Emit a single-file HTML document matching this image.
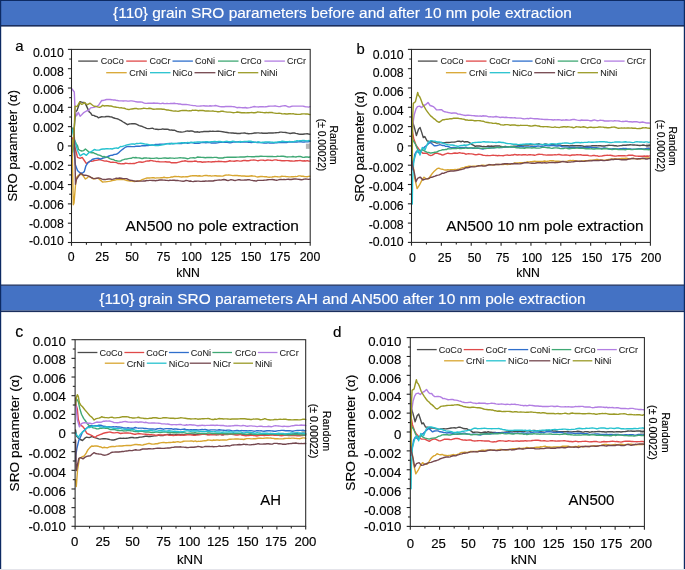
<!DOCTYPE html><html><head><meta charset="utf-8"><style>html,body{margin:0;padding:0;background:#fff}svg{display:block;will-change:transform}text{font-family:"Liberation Sans",sans-serif}</style></head><body>
<svg width="685" height="570" viewBox="0 0 685 570">
<rect x="0" y="0" width="685" height="570" fill="#fff"/>
<rect x="0" y="0" width="685" height="25" fill="#4472c4"/>
<rect x="0" y="25" width="685" height="1.6" fill="#1b2f5e"/>
<text x="342.50" y="18.30" font-size="15.45" text-anchor="middle" fill="#fff" stroke="#fff" stroke-width="0.15" >{110} grain SRO parameters before and after 10 nm pole extraction</text>
<rect x="0" y="285.5" width="685" height="25.0" fill="#4472c4"/>
<rect x="0" y="310.5" width="685" height="1.6" fill="#1b2f5e"/>
<rect x="0" y="284.5" width="685" height="1.3" fill="#1b2f5e"/>
<text x="342.50" y="303.80" font-size="15.45" text-anchor="middle" fill="#fff" stroke="#fff" stroke-width="0.15" >{110} grain SRO parameters AH and AN500 after 10 nm pole extraction</text>
<text x="15.20" y="50.80" font-size="15.0" text-anchor="start" fill="#000" stroke="#000" stroke-width="0.15" >a</text>
<text transform="translate(16.50,145.80) rotate(-90)" font-size="13.1" text-anchor="middle" fill="#000" stroke="#000" stroke-width="0.15">SRO parameter (α)</text>
<text x="63.80" y="57.37" font-size="12.3" text-anchor="end" fill="#000" stroke="#000" stroke-width="0.15" >0.010</text>
<text x="63.80" y="75.67" font-size="12.3" text-anchor="end" fill="#000" stroke="#000" stroke-width="0.15" >0.008</text>
<text x="63.80" y="94.37" font-size="12.3" text-anchor="end" fill="#000" stroke="#000" stroke-width="0.15" >0.006</text>
<text x="63.80" y="113.37" font-size="12.3" text-anchor="end" fill="#000" stroke="#000" stroke-width="0.15" >0.004</text>
<text x="63.80" y="132.07" font-size="12.3" text-anchor="end" fill="#000" stroke="#000" stroke-width="0.15" >0.002</text>
<text x="63.80" y="150.77" font-size="12.3" text-anchor="end" fill="#000" stroke="#000" stroke-width="0.15" >0</text>
<text x="63.80" y="170.47" font-size="12.3" text-anchor="end" fill="#000" stroke="#000" stroke-width="0.15" >-0.002</text>
<text x="63.80" y="189.87" font-size="12.3" text-anchor="end" fill="#000" stroke="#000" stroke-width="0.15" >-0.004</text>
<text x="63.80" y="208.67" font-size="12.3" text-anchor="end" fill="#000" stroke="#000" stroke-width="0.15" >-0.006</text>
<text x="63.80" y="227.77" font-size="12.3" text-anchor="end" fill="#000" stroke="#000" stroke-width="0.15" >-0.008</text>
<text x="63.80" y="244.87" font-size="12.3" text-anchor="end" fill="#000" stroke="#000" stroke-width="0.15" >-0.010</text>
<text x="71.10" y="261.00" font-size="12.3" text-anchor="middle" fill="#000" stroke="#000" stroke-width="0.15" >0</text>
<text x="102.20" y="261.00" font-size="12.3" text-anchor="middle" fill="#000" stroke="#000" stroke-width="0.15" >25</text>
<text x="132.00" y="261.00" font-size="12.3" text-anchor="middle" fill="#000" stroke="#000" stroke-width="0.15" >50</text>
<text x="163.40" y="261.00" font-size="12.3" text-anchor="middle" fill="#000" stroke="#000" stroke-width="0.15" >75</text>
<text x="191.60" y="261.00" font-size="12.3" text-anchor="middle" fill="#000" stroke="#000" stroke-width="0.15" >100</text>
<text x="221.00" y="261.00" font-size="12.3" text-anchor="middle" fill="#000" stroke="#000" stroke-width="0.15" >125</text>
<text x="251.10" y="261.00" font-size="12.3" text-anchor="middle" fill="#000" stroke="#000" stroke-width="0.15" >150</text>
<text x="280.00" y="261.00" font-size="12.3" text-anchor="middle" fill="#000" stroke="#000" stroke-width="0.15" >175</text>
<text x="310.00" y="261.00" font-size="12.3" text-anchor="middle" fill="#000" stroke="#000" stroke-width="0.15" >200</text>
<text x="188.00" y="276.90" font-size="12.2" text-anchor="middle" fill="#000" stroke="#000" stroke-width="0.15" >kNN</text>
<text x="125.50" y="231.20" font-size="15.45" text-anchor="start" fill="#000" stroke="#000" stroke-width="0.15" >AN500 no pole extraction</text>
<text transform="translate(330.20,145.00) rotate(90)" font-size="10.3" text-anchor="middle" fill="#000" stroke="#000" stroke-width="0.15">Random</text>
<text transform="translate(317.60,145.00) rotate(90)" font-size="10.3" text-anchor="middle" fill="#000" stroke="#000" stroke-width="0.15">(± 0.00022)</text>
<rect x="305.90" y="143.65" width="3.8" height="5.2" fill="#b8b8b8"/>
<polyline points="72.50,150.00 74.00,131.04 75.50,112.00 77.00,110.50 78.50,106.30 80.00,101.60 81.60,102.17 83.20,102.37 84.80,102.60 86.20,105.37 87.60,108.40 89.00,111.60 90.60,112.98 92.20,115.30 93.80,115.37 95.40,116.30 96.95,116.57 98.50,117.90 100.10,117.21 101.70,116.80 103.38,116.90 105.06,116.79 106.74,116.50 108.42,116.52 110.10,116.80 111.68,116.96 113.26,117.77 114.84,118.27 116.42,118.57 118.00,119.00 119.58,119.88 121.17,120.64 122.75,121.77 124.33,122.70 125.92,123.63 127.50,124.70 128.97,124.06 130.43,123.85 131.90,123.72 133.37,123.73 134.83,123.76 136.30,124.20 137.77,124.86 139.23,125.61 140.70,125.98 142.17,126.41 143.63,127.09 145.10,127.70 146.57,128.41 148.03,128.60 149.50,128.62 150.97,128.37 152.43,128.23 153.90,128.90 155.35,129.18 156.80,129.31 158.25,129.43 159.70,129.40 161.15,129.38 162.60,128.90 164.07,129.23 165.53,129.26 167.00,129.14 168.47,129.49 169.93,130.10 171.40,130.00 172.90,130.23 174.40,130.22 175.90,130.82 177.40,131.65 178.90,131.82 180.40,131.93 181.90,132.10 183.32,131.92 184.74,131.59 186.16,131.11 187.58,130.83 189.00,131.20 190.45,130.97 191.90,130.99 193.35,131.41 194.80,132.07 196.25,132.03 197.70,131.80 199.24,132.23 200.77,131.90 202.31,131.82 203.85,131.54 205.39,131.44 206.93,131.49 208.46,131.46 210.00,131.20 211.43,131.36 212.87,131.27 214.30,131.42 215.73,131.36 217.17,131.32 218.60,131.26 220.03,131.34 221.47,131.56 222.90,131.72 224.33,132.06 225.77,132.32 227.20,132.47 228.63,132.78 230.07,132.84 231.50,133.01 232.93,132.98 234.37,133.23 235.80,133.25 237.23,133.46 238.67,133.40 240.10,133.50 241.53,133.11 242.96,133.16 244.39,132.91 245.82,133.29 247.25,133.47 248.68,133.69 250.11,133.58 251.54,133.56 252.97,133.38 254.40,132.96 255.83,133.01 257.26,132.90 258.69,132.85 260.11,133.10 261.54,132.96 262.97,133.23 264.40,133.18 265.83,133.26 267.26,133.20 268.69,132.89 270.12,133.05 271.55,132.91 272.98,132.95 274.41,132.83 275.84,132.69 277.27,132.59 278.70,132.50 280.12,132.13 281.55,132.12 282.97,132.33 284.39,132.39 285.81,132.52 287.24,132.85 288.66,133.17 290.08,133.46 291.50,133.25 292.93,133.04 294.35,133.04 295.77,133.39 297.20,133.57 298.62,134.03 300.04,134.20 301.46,134.24 302.89,134.19 304.31,134.02 305.73,133.88 307.15,133.76 308.58,134.01 310.00,134.20" fill="none" stroke="#4b4b4b" stroke-width="1.4" stroke-linejoin="round" stroke-linecap="round"/>
<polyline points="72.50,138.00 74.20,144.32 75.90,151.00 77.50,157.40 80.10,158.40 82.20,157.40 84.30,160.50 86.40,163.70 88.25,162.42 90.10,161.10 91.50,161.31 92.90,161.14 94.30,160.50 96.07,160.41 97.83,160.03 99.60,159.50 101.33,160.11 103.07,160.59 104.80,161.10 106.28,161.04 107.76,161.35 109.24,161.71 110.72,162.37 112.20,162.10 113.65,162.27 115.10,162.37 116.55,162.67 118.00,163.50 119.50,163.52 121.00,163.90 122.50,163.74 124.00,163.70 125.54,163.28 127.08,163.38 128.61,163.66 130.15,163.48 131.69,163.59 133.23,163.37 134.76,163.46 136.30,162.80 137.71,162.44 139.12,161.96 140.53,161.94 141.94,162.22 143.35,161.99 144.76,161.66 146.17,161.10 147.58,160.95 148.99,160.99 150.40,160.50 151.93,160.65 153.45,161.02 154.97,161.10 156.50,161.64 158.03,161.48 159.55,161.75 161.07,161.83 162.60,161.90 164.07,161.90 165.53,161.79 167.00,161.97 168.47,161.90 169.93,162.07 171.40,162.80 172.94,162.66 174.47,162.82 176.01,162.72 177.55,162.44 179.09,162.07 180.62,161.67 182.16,161.25 183.70,161.10 185.10,160.77 186.50,161.09 187.90,161.50 189.30,161.45 190.70,161.39 192.10,161.52 193.50,161.35 194.90,161.03 196.30,161.19 197.70,161.90 199.24,161.58 200.77,161.78 202.31,162.28 203.85,162.04 205.39,162.04 206.93,161.88 208.46,161.80 210.00,161.90 211.42,162.00 212.84,161.78 214.26,161.73 215.68,161.56 217.10,161.60 218.52,161.30 219.94,161.50 221.36,161.50 222.78,161.65 224.20,161.71 225.62,161.81 227.04,161.48 228.46,161.28 229.88,160.76 231.30,161.10 232.70,161.16 234.11,161.30 235.51,160.95 236.92,160.80 238.32,160.89 239.72,161.15 241.13,161.14 242.53,160.72 243.94,160.40 245.34,160.50 246.74,160.72 248.15,160.75 249.55,160.52 250.96,160.08 252.36,160.08 253.76,160.04 255.17,160.10 256.57,160.42 257.98,160.70 259.38,160.40 260.78,160.08 262.19,160.09 263.59,160.25 265.00,160.56 266.40,160.20 267.81,159.97 269.21,160.09 270.62,160.19 272.03,160.57 273.43,160.10 274.84,159.86 276.25,159.87 277.65,160.25 279.06,160.42 280.46,160.56 281.87,160.78 283.28,160.72 284.68,160.68 286.09,160.58 287.50,160.61 288.90,160.73 290.31,161.03 291.72,160.96 293.12,161.16 294.53,160.99 295.94,160.77 297.34,160.77 298.75,160.66 300.15,160.42 301.56,160.82 302.97,160.98 304.37,160.79 305.78,160.95 307.19,160.68 308.59,160.95 310.00,161.10" fill="none" stroke="#e04a4a" stroke-width="1.4" stroke-linejoin="round" stroke-linecap="round"/>
<polyline points="72.50,140.00 73.80,149.00 75.40,164.70 77.50,170.50 79.60,172.60 82.20,173.20 84.30,171.60 85.90,165.80 88.00,162.60 89.40,161.75 90.80,160.74 92.20,159.50 93.60,159.04 95.00,158.59 96.40,158.40 98.50,158.30 100.60,159.00 102.37,158.28 104.13,157.86 105.90,157.40 107.48,156.73 109.05,156.01 110.62,155.42 112.20,155.30 113.80,154.53 115.40,154.39 117.00,154.00 118.47,152.89 119.93,151.50 121.40,150.21 122.87,149.16 124.33,148.00 125.80,147.00 127.30,146.61 128.80,146.52 130.30,146.55 131.80,146.60 133.30,146.61 134.80,146.47 136.30,146.10 137.77,146.27 139.23,146.25 140.70,146.13 142.17,145.65 143.63,145.74 145.10,145.80 146.57,145.58 148.03,145.46 149.50,145.42 150.97,145.23 152.43,144.90 153.90,145.30 155.36,144.48 156.82,144.35 158.28,144.35 159.73,144.09 161.19,144.19 162.65,144.14 164.11,144.19 165.57,143.93 167.03,143.61 168.48,143.57 169.94,143.32 171.40,143.50 172.87,143.72 174.33,143.63 175.80,143.38 177.27,143.35 178.73,143.49 180.20,143.62 181.67,143.64 183.13,142.96 184.60,142.73 186.07,142.90 187.53,143.21 189.00,143.00 190.40,142.56 191.80,142.54 193.20,142.88 194.60,143.42 196.00,143.35 197.40,143.22 198.80,143.22 200.20,142.96 201.60,142.44 203.00,142.40 204.40,142.56 205.80,142.71 207.20,142.50 208.60,142.67 210.00,142.60 211.43,142.95 212.87,143.06 214.30,142.99 215.73,143.00 217.17,142.82 218.60,142.63 220.03,142.41 221.47,142.31 222.90,142.34 224.33,142.33 225.77,142.23 227.20,142.24 228.63,142.65 230.07,142.76 231.50,142.55 232.93,142.06 234.37,142.01 235.80,141.97 237.23,141.90 238.67,141.75 240.10,142.20 241.50,141.98 242.91,141.99 244.31,142.11 245.72,142.03 247.12,142.05 248.52,142.28 249.93,142.40 251.33,142.56 252.74,142.28 254.14,142.15 255.54,142.19 256.95,142.56 258.35,142.53 259.76,142.57 261.16,142.64 262.56,142.85 263.97,142.95 265.37,143.15 266.78,142.99 268.18,142.63 269.58,142.98 270.99,143.08 272.39,143.10 273.80,142.95 275.20,142.90 276.65,142.80 278.10,142.50 279.55,142.35 281.00,142.62 282.45,142.63 283.90,142.48 285.35,142.37 286.80,142.45 288.25,142.17 289.70,142.15 291.15,142.05 292.60,141.76 294.05,142.00 295.50,142.06 296.95,141.93 298.40,141.90 299.85,141.62 301.30,141.79 302.75,142.11 304.20,141.99 305.65,141.89 307.10,141.83 308.55,141.68 310.00,141.30" fill="none" stroke="#2f6fcc" stroke-width="1.4" stroke-linejoin="round" stroke-linecap="round"/>
<polyline points="72.30,128.00 74.50,140.00 76.00,143.33 77.50,145.80 78.50,149.50 80.10,150.37 81.70,151.00 83.55,150.60 85.40,149.00 87.20,150.56 89.00,152.10 90.43,152.48 91.87,152.79 93.30,152.60 94.70,153.51 96.10,153.89 97.50,154.70 99.23,155.15 100.97,155.73 102.70,156.80 104.47,156.55 106.23,157.19 108.00,157.40 109.77,158.68 111.53,159.24 113.30,159.50 114.87,160.41 116.43,160.76 118.00,161.10 120.50,161.10 122.04,160.09 123.58,159.68 125.11,159.17 126.65,159.07 128.19,158.58 129.73,158.34 131.26,158.29 132.80,157.50 134.21,157.68 135.61,157.55 137.02,157.81 138.43,157.87 139.83,158.03 141.24,158.44 142.65,158.48 144.05,158.03 145.46,157.88 146.87,158.06 148.27,158.08 149.68,158.20 151.09,158.36 152.49,158.34 153.90,158.40 155.36,158.11 156.82,158.05 158.28,158.43 159.73,158.39 161.19,158.35 162.65,158.09 164.11,158.04 165.57,158.06 167.03,158.21 168.48,158.22 169.94,157.96 171.40,158.10 172.87,158.10 174.33,158.32 175.80,158.12 177.27,158.17 178.73,157.91 180.20,157.75 181.67,157.90 183.13,157.99 184.60,158.07 186.07,158.31 187.53,158.70 189.00,158.40 190.45,157.92 191.90,157.87 193.35,157.72 194.80,158.00 196.25,157.55 197.70,157.00 199.24,157.20 200.77,157.31 202.31,157.35 203.85,157.53 205.39,157.68 206.93,157.54 208.46,157.53 210.00,157.50 211.43,157.47 212.87,157.59 214.30,157.39 215.73,157.35 217.17,157.55 218.60,157.96 220.03,158.00 221.47,157.92 222.90,157.99 224.33,157.54 225.77,157.34 227.20,157.21 228.63,157.26 230.07,157.23 231.50,157.11 232.93,157.20 234.37,157.22 235.80,157.29 237.23,157.15 238.67,157.13 240.10,157.00 241.54,156.96 242.98,156.93 244.42,157.01 245.86,156.81 247.30,156.33 248.74,156.67 250.17,156.61 251.61,156.70 253.05,156.64 254.49,156.76 255.93,156.39 257.37,156.45 258.81,156.43 260.25,156.30 261.69,156.26 263.13,156.39 264.57,156.37 266.01,156.36 267.45,156.55 268.89,156.40 270.32,156.44 271.76,156.41 273.20,156.57 274.64,156.66 276.08,156.64 277.52,156.25 278.96,156.37 280.40,156.30 281.81,156.20 283.22,156.27 284.63,156.46 286.04,156.80 287.45,156.98 288.86,156.90 290.27,156.86 291.68,156.80 293.09,156.53 294.50,156.84 295.90,157.03 297.31,156.64 298.72,156.44 300.13,156.53 301.54,156.77 302.95,157.37 304.36,157.24 305.77,156.95 307.18,156.94 308.59,157.26 310.00,157.00" fill="none" stroke="#3fa874" stroke-width="1.4" stroke-linejoin="round" stroke-linecap="round"/>
<polyline points="72.00,89.00 74.30,92.00 75.10,111.00 76.60,115.80 78.30,112.40 80.10,116.30 81.95,114.55 83.80,112.60 86.40,111.00 88.50,110.50 90.60,107.90 92.20,107.65 93.80,107.43 95.40,106.80 96.95,106.42 98.50,105.30 100.10,102.87 101.70,100.50 103.25,100.43 104.80,100.00 106.57,99.46 108.33,99.51 110.10,99.50 111.59,99.73 113.07,99.93 114.56,99.88 116.04,100.24 117.53,100.55 119.01,100.83 120.50,100.90 121.91,100.86 123.32,100.98 124.73,100.86 126.14,100.86 127.55,101.10 128.96,101.08 130.37,100.90 131.78,100.92 133.19,101.15 134.60,101.40 136.10,101.82 137.60,101.96 139.10,101.96 140.60,101.97 142.10,102.14 143.60,102.93 145.10,103.20 146.56,103.38 148.02,103.15 149.47,103.29 150.93,103.30 152.39,103.19 153.85,103.05 155.31,103.18 156.77,103.21 158.22,103.32 159.68,103.56 161.14,103.62 162.60,103.20 164.07,103.45 165.53,103.58 167.00,103.36 168.47,103.60 169.93,103.51 171.40,103.34 172.87,103.55 174.33,103.29 175.80,103.64 177.27,103.58 178.73,104.02 180.20,104.00 181.66,104.45 183.12,104.44 184.57,104.44 186.03,104.44 187.49,104.60 188.95,104.82 190.41,105.12 191.87,105.38 193.32,105.61 194.78,105.61 196.24,105.94 197.70,106.10 199.24,106.17 200.77,105.96 202.31,105.90 203.85,105.81 205.39,105.96 206.93,105.89 208.46,106.12 210.00,105.80 211.42,105.94 212.83,105.83 214.25,105.74 215.66,105.55 217.08,105.85 218.50,106.28 219.91,106.60 221.33,106.68 222.74,106.78 224.16,106.70 225.58,106.51 226.99,106.51 228.41,106.53 229.82,106.57 231.24,106.53 232.66,106.58 234.07,106.71 235.49,107.19 236.90,107.69 238.32,107.46 239.74,107.52 241.15,107.60 242.57,107.71 243.98,107.79 245.40,107.50 246.86,108.00 248.32,107.83 249.78,107.59 251.24,107.30 252.71,106.88 254.17,106.54 255.63,106.79 257.09,106.92 258.55,106.96 260.01,106.67 261.47,106.71 262.93,106.66 264.39,106.90 265.86,106.72 267.32,106.54 268.78,106.22 270.24,106.13 271.70,106.10 273.12,106.14 274.54,105.94 275.96,106.07 277.37,106.37 278.79,106.64 280.21,106.48 281.63,106.12 283.05,105.90 284.47,105.81 285.89,105.76 287.30,106.48 288.72,106.95 290.14,106.75 291.56,106.32 292.98,106.17 294.40,106.12 295.81,106.11 297.23,106.15 298.65,106.15 300.07,106.08 301.49,106.17 302.91,106.15 304.33,106.45 305.74,106.84 307.16,106.89 308.58,107.12 310.00,106.70" fill="none" stroke="#b27ee2" stroke-width="1.4" stroke-linejoin="round" stroke-linecap="round"/>
<polyline points="72.20,140.00 72.60,170.00 73.30,204.70 74.00,203.00 75.50,185.00 76.30,178.00 78.50,175.30 80.10,174.60 81.70,174.20 83.55,176.39 85.40,179.00 87.20,177.81 89.00,176.30 90.43,177.25 91.87,177.85 93.30,179.00 95.03,178.52 96.77,178.41 98.50,178.40 99.90,179.67 101.30,180.87 102.70,182.10 104.13,181.86 105.57,181.86 107.00,181.60 108.73,181.40 110.47,181.11 112.20,180.50 113.65,180.36 115.10,180.06 116.55,179.58 118.00,179.50 119.50,179.40 121.00,179.65 122.50,179.53 124.00,179.50 125.54,180.06 127.08,180.56 128.61,180.80 130.15,180.94 131.69,180.84 133.23,181.22 134.76,181.65 136.30,181.20 137.77,181.33 139.23,180.86 140.70,180.34 142.17,179.69 143.63,179.16 145.10,178.60 146.56,178.03 148.02,178.05 149.47,177.97 150.93,177.84 152.39,177.77 153.85,177.75 155.31,178.08 156.77,177.90 158.22,177.92 159.68,177.85 161.14,177.61 162.60,177.70 164.07,177.26 165.53,177.65 167.00,177.79 168.47,177.67 169.93,177.38 171.40,177.00 172.87,176.93 174.33,176.52 175.80,176.46 177.27,176.58 178.73,176.57 180.20,176.80 181.66,176.98 183.12,176.81 184.57,176.85 186.03,176.66 187.49,176.78 188.95,176.35 190.41,176.06 191.87,175.82 193.32,175.74 194.78,175.81 196.24,175.71 197.70,176.00 199.24,175.71 200.77,176.04 202.31,176.10 203.85,175.62 205.39,175.39 206.93,175.46 208.46,175.94 210.00,175.60 211.43,176.13 212.87,175.84 214.30,175.80 215.73,175.70 217.17,175.99 218.60,176.02 220.03,175.95 221.47,176.10 222.90,176.11 224.33,175.47 225.77,175.06 227.20,175.08 228.63,174.95 230.07,175.18 231.50,175.41 232.93,175.66 234.37,175.52 235.80,175.46 237.23,175.49 238.67,175.75 240.10,175.60 241.56,176.07 243.02,175.92 244.48,176.05 245.94,176.26 247.41,176.30 248.87,176.19 250.33,176.00 251.79,175.79 253.25,176.16 254.71,176.15 256.17,176.64 257.63,176.97 259.09,176.71 260.56,176.48 262.02,176.34 263.48,176.67 264.94,176.81 266.40,176.80 267.81,177.11 269.21,177.21 270.62,177.15 272.03,177.01 273.43,176.81 274.84,176.48 276.25,176.61 277.65,176.80 279.06,176.83 280.46,176.75 281.87,176.25 283.28,176.38 284.68,176.35 286.09,176.54 287.50,176.60 288.90,176.83 290.31,176.87 291.72,176.76 293.12,176.78 294.53,176.64 295.94,176.57 297.34,176.39 298.75,175.90 300.15,175.85 301.56,176.23 302.97,176.31 304.37,176.56 305.78,176.61 307.19,176.72 308.59,176.40 310.00,176.30" fill="none" stroke="#d8a631" stroke-width="1.4" stroke-linejoin="round" stroke-linecap="round"/>
<polyline points="72.50,130.00 74.50,140.00 76.00,144.79 77.50,150.50 80.10,155.80 81.95,154.72 83.80,153.70 86.40,155.30 89.00,152.60 90.77,151.78 92.53,150.92 94.30,149.50 96.07,149.97 97.83,150.09 99.60,150.00 101.33,149.20 103.07,149.01 104.80,149.00 106.28,148.65 107.76,148.73 109.24,148.91 110.72,148.80 112.20,149.00 113.65,148.46 115.10,148.13 116.55,148.02 118.00,148.40 120.50,146.50 121.94,146.59 123.37,146.06 124.81,145.68 126.25,145.17 127.68,144.80 129.12,144.37 130.55,144.17 131.99,144.00 133.43,144.03 134.86,144.23 136.30,143.50 137.77,143.57 139.23,143.34 140.70,143.29 142.17,143.51 143.63,143.75 145.10,144.14 146.57,144.18 148.03,144.49 149.50,144.92 150.97,145.00 152.43,145.06 153.90,145.30 155.36,145.50 156.82,145.53 158.28,145.43 159.73,145.37 161.19,145.05 162.65,144.75 164.11,144.54 165.57,144.09 167.03,143.81 168.48,143.79 169.94,144.14 171.40,143.50 172.87,143.42 174.33,143.46 175.80,143.58 177.27,143.54 178.73,143.15 180.20,142.84 181.67,142.71 183.13,142.79 184.60,143.16 186.07,142.82 187.53,142.47 189.00,142.60 190.40,142.32 191.80,142.53 193.20,142.44 194.60,142.20 196.00,142.15 197.40,141.97 198.80,141.96 200.20,141.97 201.60,142.12 203.00,141.85 204.40,141.87 205.80,141.68 207.20,141.70 208.60,141.86 210.00,142.00 211.43,141.74 212.87,141.58 214.30,141.45 215.73,141.54 217.17,141.58 218.60,141.54 220.03,141.48 221.47,141.60 222.90,142.06 224.33,141.60 225.77,141.42 227.20,141.31 228.63,141.64 230.07,141.69 231.50,141.52 232.93,141.28 234.37,141.35 235.80,141.85 237.23,142.14 238.67,141.98 240.10,141.50 241.50,141.77 242.91,141.66 244.31,141.39 245.72,141.38 247.12,141.40 248.52,141.28 249.93,141.15 251.33,141.30 252.74,141.80 254.14,142.13 255.54,142.34 256.95,142.10 258.35,141.81 259.76,142.27 261.16,142.51 262.56,142.27 263.97,142.21 265.37,141.85 266.78,141.96 268.18,141.91 269.58,141.96 270.99,142.15 272.39,142.18 273.80,142.50 275.20,142.30 276.65,142.25 278.10,141.99 279.55,141.76 281.00,141.55 282.45,141.28 283.90,141.49 285.35,141.67 286.80,141.65 288.25,141.64 289.70,141.54 291.15,141.87 292.60,141.74 294.05,141.55 295.50,141.30 296.95,140.72 298.40,140.88 299.85,140.76 301.30,140.77 302.75,140.56 304.20,140.46 305.65,140.81 307.10,140.86 308.55,140.57 310.00,140.60" fill="none" stroke="#26c2cf" stroke-width="1.4" stroke-linejoin="round" stroke-linecap="round"/>
<polyline points="74.00,128.00 74.80,150.00 75.50,184.20 76.40,179.50 78.50,176.30 80.60,173.20 82.20,174.26 83.80,175.30 85.20,175.13 86.60,175.34 88.00,175.80 89.77,176.58 91.53,177.76 93.30,178.40 95.03,178.61 96.77,178.26 98.50,177.90 100.27,178.38 102.03,179.17 103.80,179.50 105.38,179.56 106.95,179.18 108.52,179.05 110.10,179.00 111.68,179.35 113.26,179.10 114.84,178.69 116.42,178.20 118.00,178.40 119.50,177.96 121.00,178.20 122.50,178.52 124.00,178.60 125.54,178.66 127.08,178.79 128.61,179.53 130.15,180.27 131.69,180.42 133.23,180.74 134.76,180.99 136.30,181.20 137.77,180.98 139.23,181.09 140.70,181.12 142.17,181.13 143.63,181.01 145.10,180.96 146.57,180.54 148.03,180.62 149.50,180.38 150.97,180.33 152.43,180.55 153.90,180.40 155.36,180.77 156.82,180.44 158.28,180.29 159.73,180.02 161.19,179.92 162.65,180.03 164.11,180.09 165.57,180.26 167.03,180.39 168.48,180.61 169.94,180.27 171.40,180.40 172.87,180.32 174.33,180.21 175.80,180.55 177.27,180.32 178.73,180.60 180.20,180.83 181.67,181.14 183.13,181.30 184.60,181.00 186.07,180.44 187.53,180.63 189.00,181.20 190.40,180.95 191.80,181.33 193.20,181.58 194.60,181.29 196.00,181.23 197.40,181.14 198.80,181.16 200.20,181.36 201.60,181.34 203.00,181.22 204.40,181.20 205.80,181.07 207.20,181.10 208.60,181.00 210.00,180.90 211.56,181.06 213.12,181.00 214.69,180.52 216.25,180.32 217.81,180.12 219.38,180.05 220.94,180.08 222.50,179.80 223.90,179.53 225.31,179.73 226.71,180.26 228.12,180.55 229.52,180.18 230.92,179.62 232.33,179.89 233.73,180.26 235.14,180.46 236.54,180.16 237.94,179.81 239.35,179.74 240.75,179.97 242.16,180.10 243.56,180.09 244.96,179.88 246.37,179.94 247.77,179.81 249.18,179.69 250.58,180.12 251.98,180.36 253.39,180.69 254.79,180.80 256.20,181.09 257.60,180.40 259.07,180.41 260.53,180.41 262.00,180.39 263.47,180.29 264.93,180.12 266.40,180.00 267.87,179.76 269.33,179.62 270.80,179.60 272.27,179.48 273.73,179.75 275.20,180.04 276.67,180.21 278.13,179.92 279.60,179.56 281.07,179.44 282.53,179.65 284.00,179.50 285.44,179.62 286.89,179.36 288.33,179.29 289.78,179.49 291.22,179.54 292.67,179.22 294.11,178.98 295.56,178.84 297.00,179.08 298.44,179.32 299.89,179.49 301.33,179.80 302.78,179.51 304.22,179.16 305.67,179.01 307.11,179.11 308.56,179.36 310.00,179.10" fill="none" stroke="#74474f" stroke-width="1.4" stroke-linejoin="round" stroke-linecap="round"/>
<polyline points="72.60,152.00 74.30,128.00 75.10,106.10 77.10,106.70 79.60,102.10 81.20,104.20 82.75,103.99 84.30,102.60 85.90,103.90 87.50,104.70 90.10,103.20 91.70,104.55 93.30,105.80 94.70,106.31 96.10,106.33 97.50,106.80 99.60,107.40 101.15,106.59 102.70,105.30 104.47,105.98 106.23,105.65 108.00,105.80 109.40,106.00 110.80,105.98 112.20,106.30 113.65,106.84 115.10,107.05 116.55,107.27 118.00,107.40 119.58,107.83 121.17,107.76 122.75,108.11 124.33,108.27 125.92,108.84 127.50,109.30 128.97,109.64 130.43,109.14 131.90,108.94 133.37,108.74 134.83,108.56 136.30,108.45 137.77,108.94 139.23,108.91 140.70,108.80 142.17,108.60 143.63,108.30 145.10,108.40 146.56,108.63 148.02,108.51 149.47,108.22 150.93,108.46 152.39,109.07 153.85,109.18 155.31,109.11 156.77,109.00 158.22,109.04 159.68,108.86 161.14,108.97 162.60,109.30 164.01,109.25 165.42,109.58 166.83,109.99 168.24,110.01 169.65,110.36 171.06,110.55 172.47,110.82 173.88,111.09 175.29,111.04 176.70,111.10 178.14,111.37 179.57,110.94 181.01,110.65 182.45,110.43 183.88,110.46 185.32,110.35 186.75,110.56 188.19,110.91 189.63,110.74 191.06,110.91 192.50,110.20 193.96,110.38 195.42,110.08 196.88,110.38 198.33,110.76 199.79,110.46 201.25,110.38 202.71,110.43 204.17,110.71 205.62,111.07 207.08,110.98 208.54,110.97 210.00,111.10 211.43,111.08 212.87,110.94 214.30,111.34 215.73,111.42 217.17,111.68 218.60,111.72 220.03,111.54 221.47,111.25 222.90,111.22 224.33,111.68 225.77,111.91 227.20,112.16 228.63,112.14 230.07,112.14 231.50,112.32 232.93,112.68 234.37,112.59 235.80,112.39 237.23,112.05 238.67,112.26 240.10,112.50 241.56,112.80 243.02,112.79 244.48,112.60 245.94,112.88 247.41,112.79 248.87,112.79 250.33,112.62 251.79,112.36 253.25,112.81 254.71,112.73 256.17,112.55 257.63,111.97 259.09,112.11 260.56,112.30 262.02,112.42 263.48,112.66 264.94,112.73 266.40,112.50 267.81,112.68 269.21,112.52 270.62,112.46 272.03,112.55 273.43,112.92 274.84,113.13 276.25,113.38 277.65,113.36 279.06,113.24 280.46,113.41 281.87,113.69 283.28,113.83 284.68,113.77 286.09,114.01 287.50,113.98 288.90,113.74 290.31,113.60 291.72,113.90 293.12,113.69 294.53,114.17 295.94,114.29 297.34,114.41 298.75,114.36 300.15,114.33 301.56,114.01 302.97,113.87 304.37,113.92 305.78,114.06 307.19,113.94 308.59,114.24 310.00,114.60" fill="none" stroke="#9a9a26" stroke-width="1.4" stroke-linejoin="round" stroke-linecap="round"/>
<rect x="71.50" y="49.40" width="238.70" height="193.10" fill="none" stroke="#262626" stroke-width="1.05"/>
<line x1="67.90" y1="49.40" x2="71.50" y2="49.40" stroke="#262626" stroke-width="1.1"/>
<line x1="69.20" y1="59.05" x2="71.50" y2="59.05" stroke="#262626" stroke-width="1.1"/>
<line x1="67.90" y1="68.71" x2="71.50" y2="68.71" stroke="#262626" stroke-width="1.1"/>
<line x1="69.20" y1="78.36" x2="71.50" y2="78.36" stroke="#262626" stroke-width="1.1"/>
<line x1="67.90" y1="88.02" x2="71.50" y2="88.02" stroke="#262626" stroke-width="1.1"/>
<line x1="69.20" y1="97.67" x2="71.50" y2="97.67" stroke="#262626" stroke-width="1.1"/>
<line x1="67.90" y1="107.33" x2="71.50" y2="107.33" stroke="#262626" stroke-width="1.1"/>
<line x1="69.20" y1="116.99" x2="71.50" y2="116.99" stroke="#262626" stroke-width="1.1"/>
<line x1="67.90" y1="126.64" x2="71.50" y2="126.64" stroke="#262626" stroke-width="1.1"/>
<line x1="69.20" y1="136.29" x2="71.50" y2="136.29" stroke="#262626" stroke-width="1.1"/>
<line x1="67.90" y1="145.95" x2="71.50" y2="145.95" stroke="#262626" stroke-width="1.1"/>
<line x1="69.20" y1="155.60" x2="71.50" y2="155.60" stroke="#262626" stroke-width="1.1"/>
<line x1="67.90" y1="165.26" x2="71.50" y2="165.26" stroke="#262626" stroke-width="1.1"/>
<line x1="69.20" y1="174.91" x2="71.50" y2="174.91" stroke="#262626" stroke-width="1.1"/>
<line x1="67.90" y1="184.57" x2="71.50" y2="184.57" stroke="#262626" stroke-width="1.1"/>
<line x1="69.20" y1="194.22" x2="71.50" y2="194.22" stroke="#262626" stroke-width="1.1"/>
<line x1="67.90" y1="203.88" x2="71.50" y2="203.88" stroke="#262626" stroke-width="1.1"/>
<line x1="69.20" y1="213.53" x2="71.50" y2="213.53" stroke="#262626" stroke-width="1.1"/>
<line x1="67.90" y1="223.19" x2="71.50" y2="223.19" stroke="#262626" stroke-width="1.1"/>
<line x1="69.20" y1="232.84" x2="71.50" y2="232.84" stroke="#262626" stroke-width="1.1"/>
<line x1="67.90" y1="242.50" x2="71.50" y2="242.50" stroke="#262626" stroke-width="1.1"/>
<line x1="71.50" y1="242.50" x2="71.50" y2="245.80" stroke="#262626" stroke-width="1.1"/>
<line x1="86.42" y1="242.50" x2="86.42" y2="244.70" stroke="#262626" stroke-width="1.1"/>
<line x1="101.34" y1="242.50" x2="101.34" y2="245.80" stroke="#262626" stroke-width="1.1"/>
<line x1="116.26" y1="242.50" x2="116.26" y2="244.70" stroke="#262626" stroke-width="1.1"/>
<line x1="131.18" y1="242.50" x2="131.18" y2="245.80" stroke="#262626" stroke-width="1.1"/>
<line x1="146.09" y1="242.50" x2="146.09" y2="244.70" stroke="#262626" stroke-width="1.1"/>
<line x1="161.01" y1="242.50" x2="161.01" y2="245.80" stroke="#262626" stroke-width="1.1"/>
<line x1="175.93" y1="242.50" x2="175.93" y2="244.70" stroke="#262626" stroke-width="1.1"/>
<line x1="190.85" y1="242.50" x2="190.85" y2="245.80" stroke="#262626" stroke-width="1.1"/>
<line x1="205.77" y1="242.50" x2="205.77" y2="244.70" stroke="#262626" stroke-width="1.1"/>
<line x1="220.69" y1="242.50" x2="220.69" y2="245.80" stroke="#262626" stroke-width="1.1"/>
<line x1="235.61" y1="242.50" x2="235.61" y2="244.70" stroke="#262626" stroke-width="1.1"/>
<line x1="250.52" y1="242.50" x2="250.52" y2="245.80" stroke="#262626" stroke-width="1.1"/>
<line x1="265.44" y1="242.50" x2="265.44" y2="244.70" stroke="#262626" stroke-width="1.1"/>
<line x1="280.36" y1="242.50" x2="280.36" y2="245.80" stroke="#262626" stroke-width="1.1"/>
<line x1="295.28" y1="242.50" x2="295.28" y2="244.70" stroke="#262626" stroke-width="1.1"/>
<line x1="310.20" y1="242.50" x2="310.20" y2="245.80" stroke="#262626" stroke-width="1.1"/>
<line x1="78.20" y1="61.10" x2="97.80" y2="61.10" stroke="#4b4b4b" stroke-width="1.3"/>
<text x="100.80" y="64.40" font-size="9" text-anchor="start" fill="#1e1e1e" stroke="#1e1e1e" stroke-width="0.15" stroke-opacity="0.5">CoCo</text>
<line x1="126.20" y1="61.10" x2="146.80" y2="61.10" stroke="#e04a4a" stroke-width="1.3"/>
<text x="149.50" y="64.40" font-size="9" text-anchor="start" fill="#1e1e1e" stroke="#1e1e1e" stroke-width="0.15" stroke-opacity="0.5">CoCr</text>
<line x1="172.50" y1="61.10" x2="192.90" y2="61.10" stroke="#2f6fcc" stroke-width="1.3"/>
<text x="195.00" y="64.40" font-size="9" text-anchor="start" fill="#1e1e1e" stroke="#1e1e1e" stroke-width="0.15" stroke-opacity="0.5">CoNi</text>
<line x1="218.00" y1="61.10" x2="238.50" y2="61.10" stroke="#3fa874" stroke-width="1.3"/>
<text x="240.60" y="64.40" font-size="9" text-anchor="start" fill="#1e1e1e" stroke="#1e1e1e" stroke-width="0.15" stroke-opacity="0.5">CrCo</text>
<line x1="264.40" y1="61.10" x2="284.90" y2="61.10" stroke="#b27ee2" stroke-width="1.3"/>
<text x="287.00" y="64.40" font-size="9" text-anchor="start" fill="#1e1e1e" stroke="#1e1e1e" stroke-width="0.15" stroke-opacity="0.5">CrCr</text>
<line x1="106.20" y1="72.70" x2="126.70" y2="72.70" stroke="#d8a631" stroke-width="1.3"/>
<text x="129.20" y="76.00" font-size="9" text-anchor="start" fill="#1e1e1e" stroke="#1e1e1e" stroke-width="0.15" stroke-opacity="0.5">CrNi</text>
<line x1="150.00" y1="72.70" x2="170.50" y2="72.70" stroke="#26c2cf" stroke-width="1.3"/>
<text x="172.60" y="76.00" font-size="9" text-anchor="start" fill="#1e1e1e" stroke="#1e1e1e" stroke-width="0.15" stroke-opacity="0.5">NiCo</text>
<line x1="194.50" y1="72.70" x2="215.40" y2="72.70" stroke="#74474f" stroke-width="1.3"/>
<text x="217.50" y="76.00" font-size="9" text-anchor="start" fill="#1e1e1e" stroke="#1e1e1e" stroke-width="0.15" stroke-opacity="0.5">NiCr</text>
<line x1="237.90" y1="72.70" x2="258.30" y2="72.70" stroke="#9a9a26" stroke-width="1.3"/>
<text x="260.50" y="76.00" font-size="9" text-anchor="start" fill="#1e1e1e" stroke="#1e1e1e" stroke-width="0.15" stroke-opacity="0.5">NiNi</text>
<text x="356.60" y="53.80" font-size="14.8" text-anchor="start" fill="#000" stroke="#000" stroke-width="0.15" >b</text>
<text transform="translate(363.60,146.70) rotate(-90)" font-size="13.0" text-anchor="middle" fill="#000" stroke="#000" stroke-width="0.15">SRO parameter (α)</text>
<text x="403.60" y="58.52" font-size="12.3" text-anchor="end" fill="#000" stroke="#000" stroke-width="0.15" >0.010</text>
<text x="403.60" y="76.82" font-size="12.3" text-anchor="end" fill="#000" stroke="#000" stroke-width="0.15" >0.008</text>
<text x="403.60" y="95.52" font-size="12.3" text-anchor="end" fill="#000" stroke="#000" stroke-width="0.15" >0.006</text>
<text x="403.60" y="114.52" font-size="12.3" text-anchor="end" fill="#000" stroke="#000" stroke-width="0.15" >0.004</text>
<text x="403.60" y="133.22" font-size="12.3" text-anchor="end" fill="#000" stroke="#000" stroke-width="0.15" >0.002</text>
<text x="403.60" y="151.92" font-size="12.3" text-anchor="end" fill="#000" stroke="#000" stroke-width="0.15" >0</text>
<text x="403.60" y="171.62" font-size="12.3" text-anchor="end" fill="#000" stroke="#000" stroke-width="0.15" >-0.002</text>
<text x="403.60" y="191.02" font-size="12.3" text-anchor="end" fill="#000" stroke="#000" stroke-width="0.15" >-0.004</text>
<text x="403.60" y="209.82" font-size="12.3" text-anchor="end" fill="#000" stroke="#000" stroke-width="0.15" >-0.006</text>
<text x="403.60" y="228.92" font-size="12.3" text-anchor="end" fill="#000" stroke="#000" stroke-width="0.15" >-0.008</text>
<text x="403.60" y="246.02" font-size="12.3" text-anchor="end" fill="#000" stroke="#000" stroke-width="0.15" >-0.010</text>
<text x="412.30" y="261.70" font-size="12.3" text-anchor="middle" fill="#000" stroke="#000" stroke-width="0.15" >0</text>
<text x="444.70" y="261.70" font-size="12.3" text-anchor="middle" fill="#000" stroke="#000" stroke-width="0.15" >25</text>
<text x="474.50" y="261.70" font-size="12.3" text-anchor="middle" fill="#000" stroke="#000" stroke-width="0.15" >50</text>
<text x="502.50" y="261.70" font-size="12.3" text-anchor="middle" fill="#000" stroke="#000" stroke-width="0.15" >75</text>
<text x="531.90" y="261.70" font-size="12.3" text-anchor="middle" fill="#000" stroke="#000" stroke-width="0.15" >100</text>
<text x="561.50" y="261.70" font-size="12.3" text-anchor="middle" fill="#000" stroke="#000" stroke-width="0.15" >125</text>
<text x="592.10" y="261.70" font-size="12.3" text-anchor="middle" fill="#000" stroke="#000" stroke-width="0.15" >150</text>
<text x="621.70" y="261.70" font-size="12.3" text-anchor="middle" fill="#000" stroke="#000" stroke-width="0.15" >175</text>
<text x="651.00" y="261.70" font-size="12.3" text-anchor="middle" fill="#000" stroke="#000" stroke-width="0.15" >200</text>
<text x="528.00" y="276.90" font-size="12.2" text-anchor="middle" fill="#000" stroke="#000" stroke-width="0.15" >kNN</text>
<text x="446.20" y="231.10" font-size="15.3" text-anchor="start" fill="#000" stroke="#000" stroke-width="0.15" >AN500 10 nm pole extraction</text>
<text transform="translate(669.20,146.00) rotate(90)" font-size="10.3" text-anchor="middle" fill="#000" stroke="#000" stroke-width="0.15">Random</text>
<text transform="translate(657.00,146.00) rotate(90)" font-size="10.3" text-anchor="middle" fill="#000" stroke="#000" stroke-width="0.15">(± 0.00022)</text>
<rect x="646.10" y="143.60" width="3.8" height="5.2" fill="#b8b8b8"/>
<polyline points="412.20,132.00 412.70,122.00 414.30,127.10 416.40,135.50 418.50,129.20 420.10,127.60 421.70,132.40 423.30,137.60 424.80,136.60 427.00,140.80 429.10,141.47 431.20,141.80 432.60,141.77 434.00,141.99 435.40,142.67 436.80,143.07 438.20,142.71 439.60,142.90 441.10,142.45 442.60,142.68 444.10,142.79 445.60,142.57 447.10,142.46 448.60,142.54 450.10,142.40 451.65,142.10 453.20,142.09 454.75,141.96 456.30,141.60 457.88,141.15 459.45,141.28 461.03,141.74 462.60,141.10 464.20,141.95 465.80,141.81 467.40,141.65 469.00,142.40 470.57,143.42 472.15,144.64 473.73,145.36 475.30,146.30 476.72,146.03 478.14,145.87 479.56,145.98 480.98,146.23 482.40,146.64 483.82,146.52 485.24,146.66 486.66,146.38 488.08,146.04 489.50,146.30 490.94,146.07 492.37,146.23 493.81,146.20 495.25,145.96 496.68,146.06 498.12,146.04 499.55,145.96 500.99,146.53 502.43,146.65 503.86,146.74 505.30,146.30 506.74,146.70 508.17,146.81 509.61,146.65 511.05,146.46 512.48,146.52 513.92,146.30 515.35,146.24 516.79,146.27 518.23,145.76 519.66,145.27 521.10,145.50 522.53,145.13 523.95,145.07 525.38,144.95 526.81,144.99 528.24,144.97 529.66,144.80 531.09,144.68 532.52,144.88 533.95,144.68 535.37,144.35 536.80,144.30 538.20,143.79 539.60,144.06 541.00,144.55 542.40,144.60 543.80,144.34 545.20,143.93 546.60,144.24 548.00,144.76 549.40,144.87 550.80,144.60 552.20,144.64 553.60,144.55 555.00,144.70 556.44,144.61 557.88,144.86 559.32,145.08 560.75,145.31 562.19,145.70 563.63,145.66 565.07,145.58 566.51,145.65 567.95,145.80 569.38,145.94 570.82,145.71 572.26,145.56 573.70,145.80 575.11,145.71 576.52,145.78 577.93,145.76 579.34,145.59 580.75,145.76 582.16,145.93 583.58,146.25 584.99,146.35 586.40,146.21 587.81,146.20 589.22,146.08 590.63,146.10 592.04,145.79 593.45,145.74 594.86,145.70 596.27,145.60 597.68,145.82 599.09,145.78 600.50,145.76 601.91,145.98 603.33,146.04 604.74,145.99 606.15,145.62 607.56,145.46 608.97,145.29 610.38,145.40 611.79,145.39 613.20,145.50 614.62,145.70 616.03,145.79 617.45,146.11 618.86,145.83 620.28,145.63 621.69,145.48 623.11,145.19 624.52,145.16 625.94,145.28 627.35,145.03 628.77,144.94 630.18,144.78 631.60,144.89 633.02,144.97 634.43,144.92 635.85,145.16 637.26,145.19 638.68,145.43 640.09,145.56 641.51,145.34 642.92,145.04 644.34,145.30 645.75,145.60 647.17,145.75 648.58,145.55 650.00,145.20" fill="none" stroke="#4b4b4b" stroke-width="1.4" stroke-linejoin="round" stroke-linecap="round"/>
<polyline points="412.20,130.00 413.70,138.40 416.00,145.30 417.70,147.40 419.40,149.80 421.10,151.43 422.80,153.20 424.50,153.14 426.20,153.20 427.73,153.94 429.27,155.07 430.80,155.50 432.33,155.09 433.87,154.05 435.40,153.20 437.10,153.15 438.80,153.72 440.50,154.21 442.20,155.00 443.62,154.77 445.05,154.21 446.47,153.69 447.90,153.20 449.95,153.67 452.00,153.60 453.50,153.27 455.00,153.02 456.50,153.28 458.00,153.19 459.50,152.60 461.07,153.16 462.65,153.19 464.23,153.36 465.80,154.20 467.24,153.90 468.67,153.78 470.11,153.87 471.55,153.92 472.98,154.16 474.42,154.47 475.85,154.70 477.29,154.55 478.73,154.24 480.16,154.40 481.60,154.70 483.04,155.22 484.47,155.36 485.91,155.58 487.35,155.49 488.78,155.67 490.22,155.60 491.65,155.39 493.09,155.26 494.53,155.33 495.96,155.44 497.40,155.80 498.84,155.56 500.27,155.61 501.71,155.58 503.15,155.73 504.58,155.36 506.02,155.14 507.45,155.02 508.89,155.35 510.33,155.32 511.76,154.91 513.20,155.00 514.63,154.42 516.05,154.71 517.48,155.03 518.91,154.80 520.34,154.84 521.76,154.93 523.19,154.76 524.62,154.73 526.05,154.81 527.47,155.17 528.90,154.70 530.35,154.75 531.80,154.91 533.25,154.99 534.70,155.23 536.15,154.86 537.60,154.45 539.05,154.27 540.50,154.39 541.95,154.36 543.40,154.70 544.85,154.85 546.30,155.11 547.75,155.01 549.20,154.98 550.65,154.88 552.10,154.99 553.55,154.88 555.00,154.70 556.41,154.86 557.83,154.56 559.24,154.53 560.65,154.79 562.07,154.97 563.48,155.09 564.89,154.92 566.31,154.95 567.72,155.14 569.13,155.44 570.55,155.48 571.96,155.03 573.37,154.91 574.79,154.99 576.20,154.82 577.61,154.75 579.03,154.91 580.44,154.74 581.85,155.02 583.27,155.18 584.68,155.22 586.09,155.28 587.51,155.26 588.92,155.67 590.33,155.87 591.75,155.83 593.16,155.39 594.57,155.49 595.99,155.91 597.40,155.80 598.82,156.38 600.24,156.15 601.66,156.10 603.09,155.76 604.51,155.44 605.93,155.35 607.35,155.28 608.77,155.37 610.19,155.31 611.62,155.54 613.04,155.81 614.46,156.02 615.88,156.15 617.30,155.86 618.72,155.69 620.15,155.78 621.57,155.71 622.99,155.72 624.41,155.77 625.83,155.83 627.25,155.67 628.68,155.23 630.10,155.17 631.52,155.29 632.94,155.32 634.36,155.77 635.78,156.09 637.21,156.10 638.63,156.18 640.05,156.12 641.47,156.24 642.89,156.22 644.31,156.06 645.74,156.23 647.16,156.05 648.58,156.19 650.00,155.80" fill="none" stroke="#e04a4a" stroke-width="1.4" stroke-linejoin="round" stroke-linecap="round"/>
<polyline points="412.30,170.00 414.80,154.40 416.60,151.00 419.40,153.20 421.10,151.12 422.80,148.70 424.80,146.77 426.80,145.30 428.50,143.79 430.20,142.40 432.20,143.97 434.20,145.80 435.62,145.69 437.05,145.55 438.47,145.18 439.90,144.70 441.32,145.11 442.75,145.52 444.18,145.52 445.60,146.40 447.15,146.36 448.70,146.77 450.25,147.38 451.80,147.59 453.35,147.45 454.90,147.48 456.45,147.81 458.00,148.10 459.56,147.65 461.12,147.45 462.68,147.41 464.24,147.67 465.80,147.10 467.24,147.71 468.67,147.83 470.11,147.83 471.55,148.00 472.98,148.22 474.42,148.24 475.85,148.32 477.29,148.24 478.73,148.23 480.16,148.47 481.60,148.70 483.04,148.98 484.47,148.67 485.91,148.47 487.35,148.08 488.78,147.85 490.22,147.86 491.65,147.90 493.09,147.92 494.53,147.70 495.96,147.58 497.40,147.10 498.88,147.58 500.36,147.63 501.84,147.43 503.32,147.33 504.81,147.29 506.29,147.04 507.77,146.85 509.25,146.89 510.73,146.93 512.21,147.01 513.69,147.04 515.17,147.02 516.66,147.03 518.14,146.82 519.62,146.61 521.10,146.80 522.51,146.71 523.93,146.82 525.34,147.06 526.75,147.05 528.16,146.98 529.58,146.84 530.99,146.74 532.40,146.65 533.81,146.47 535.23,146.22 536.64,146.25 538.05,145.87 539.46,146.13 540.88,146.42 542.29,146.26 543.70,146.13 545.11,145.55 546.52,145.60 547.94,145.87 549.35,145.79 550.76,145.60 552.17,145.34 553.59,145.65 555.00,145.80 556.44,146.07 557.88,145.96 559.32,145.50 560.75,146.03 562.19,146.83 563.63,146.88 565.07,146.90 566.51,146.92 567.95,147.10 569.38,147.25 570.82,147.33 572.26,147.32 573.70,147.10 575.11,147.35 576.52,147.59 577.93,147.44 579.34,147.33 580.75,147.29 582.16,147.40 583.58,147.42 584.99,147.33 586.40,147.21 587.81,147.26 589.22,147.17 590.63,147.18 592.04,147.40 593.45,147.65 594.86,147.69 596.27,147.64 597.68,147.89 599.09,148.11 600.50,148.35 601.91,148.43 603.33,148.06 604.74,147.94 606.15,148.20 607.56,148.61 608.97,149.04 610.38,149.04 611.79,148.94 613.20,148.70 614.62,148.60 616.03,148.81 617.45,148.95 618.86,149.04 620.28,148.75 621.69,148.63 623.11,148.46 624.52,148.57 625.94,148.39 627.35,148.84 628.77,149.00 630.18,149.02 631.60,149.25 633.02,149.28 634.43,149.13 635.85,149.15 637.26,148.99 638.68,148.81 640.09,148.66 641.51,148.73 642.92,149.06 644.34,148.88 645.75,148.75 647.17,148.60 648.58,148.47 650.00,148.70" fill="none" stroke="#2f6fcc" stroke-width="1.4" stroke-linejoin="round" stroke-linecap="round"/>
<polyline points="412.20,135.00 412.60,139.60 415.40,144.10 416.85,147.64 418.30,151.00 419.80,150.66 421.30,150.17 422.80,149.80 424.80,151.16 426.80,152.10 428.80,152.51 430.80,153.20 432.23,152.75 433.65,152.52 435.07,152.20 436.50,152.10 437.93,151.27 439.35,150.66 440.77,150.38 442.20,149.80 443.62,149.79 445.05,149.57 446.47,149.56 447.90,148.70 449.34,148.91 450.79,148.76 452.23,148.52 453.67,148.39 455.11,148.45 456.56,148.52 458.00,148.10 459.56,148.64 461.12,148.44 462.68,148.32 464.24,148.37 465.80,147.90 467.24,148.42 468.67,148.33 470.11,148.04 471.55,147.86 472.98,147.91 474.42,148.01 475.85,148.19 477.29,148.07 478.73,148.10 480.16,148.34 481.60,148.40 483.08,148.27 484.56,148.27 486.04,148.15 487.53,148.35 489.01,148.32 490.49,148.15 491.97,147.89 493.45,147.80 494.93,147.55 496.41,147.60 497.89,147.41 499.38,147.44 500.86,147.31 502.34,147.04 503.82,147.07 505.30,147.10 506.78,147.07 508.25,146.94 509.73,146.74 511.20,146.62 512.67,146.78 514.15,146.97 515.62,147.48 517.10,147.80 518.58,147.80 520.05,147.99 521.52,148.09 523.00,148.04 524.48,148.25 525.95,147.79 527.42,147.63 528.90,147.90 530.35,147.92 531.80,147.93 533.25,147.76 534.70,147.76 536.15,148.03 537.60,148.15 539.05,148.12 540.50,147.83 541.95,147.34 543.40,147.25 544.85,147.33 546.30,147.55 547.75,147.69 549.20,147.79 550.65,148.14 552.10,148.36 553.55,147.96 555.00,147.90 556.41,147.84 557.83,147.93 559.24,148.27 560.65,148.63 562.07,148.63 563.48,148.51 564.89,148.11 566.31,148.08 567.72,148.45 569.13,148.79 570.55,148.55 571.96,148.34 573.37,148.24 574.79,148.33 576.20,148.07 577.61,148.15 579.03,148.32 580.44,148.39 581.85,148.40 583.27,148.22 584.68,148.46 586.09,148.71 587.51,148.82 588.92,148.69 590.33,148.91 591.75,148.77 593.16,148.98 594.57,148.97 595.99,148.81 597.40,148.70 598.88,148.66 600.35,148.87 601.82,149.12 603.30,148.79 604.77,148.67 606.25,148.77 607.73,148.52 609.20,148.82 610.67,149.25 612.15,149.58 613.62,149.25 615.10,148.95 616.58,149.07 618.05,149.45 619.52,149.59 621.00,149.50 622.45,149.48 623.90,149.59 625.35,149.72 626.80,149.42 628.25,149.20 629.70,149.23 631.15,149.50 632.60,149.65 634.05,149.34 635.50,149.30 636.95,149.09 638.40,149.06 639.85,149.17 641.30,149.12 642.75,149.25 644.20,149.58 645.65,149.52 647.10,149.66 648.55,149.73 650.00,149.50" fill="none" stroke="#3fa874" stroke-width="1.4" stroke-linejoin="round" stroke-linecap="round"/>
<polyline points="412.20,136.00 412.90,124.00 414.30,114.50 415.90,109.20 417.50,106.60 419.60,106.10 421.70,107.60 423.80,105.50 425.90,104.50 428.00,102.40 430.10,105.50 431.70,106.00 433.30,106.60 434.85,108.05 436.40,109.70 438.17,109.85 439.93,109.69 441.70,109.70 443.25,111.12 444.80,111.80 446.57,112.08 448.33,112.52 450.10,112.90 451.65,113.27 453.20,112.95 454.75,112.86 456.30,113.20 457.88,114.13 459.47,114.12 461.05,114.53 462.63,114.86 464.22,115.30 465.80,115.50 467.24,115.11 468.67,115.26 470.11,115.42 471.55,115.55 472.98,115.60 474.42,115.70 475.85,115.95 477.29,115.90 478.73,116.12 480.16,116.05 481.60,116.30 483.04,115.76 484.47,115.96 485.91,115.94 487.35,116.38 488.78,116.85 490.22,116.80 491.65,116.92 493.09,116.98 494.53,116.77 495.96,116.46 497.40,116.80 498.84,117.07 500.27,117.45 501.71,117.23 503.15,117.28 504.58,117.47 506.02,117.23 507.45,117.49 508.89,117.59 510.33,117.74 511.76,117.78 513.20,117.90 514.63,117.71 516.05,117.96 517.48,118.11 518.91,118.08 520.34,118.16 521.76,118.35 523.19,118.80 524.62,118.88 526.05,118.66 527.47,118.53 528.90,118.70 530.34,118.17 531.77,118.36 533.21,118.60 534.65,118.80 536.08,118.74 537.52,118.82 538.95,118.95 540.39,119.16 541.83,119.23 543.26,119.41 544.70,119.50 546.12,119.46 547.54,119.55 548.96,119.62 550.38,119.61 551.80,119.79 553.22,120.02 554.63,119.73 556.05,119.84 557.47,119.73 558.89,119.74 560.31,119.85 561.73,120.20 563.15,120.03 564.57,120.16 565.99,119.77 567.41,119.94 568.83,120.10 570.25,120.05 571.67,119.70 573.08,119.36 574.50,119.55 575.92,119.82 577.34,120.14 578.76,120.40 580.18,120.53 581.60,120.00 583.04,120.24 584.47,120.15 585.91,120.20 587.35,120.18 588.78,120.42 590.22,120.81 591.65,120.74 593.09,120.26 594.53,119.92 595.96,120.34 597.40,120.76 598.84,120.65 600.27,120.11 601.71,120.32 603.15,120.50 604.58,120.96 606.02,120.89 607.45,121.04 608.89,120.93 610.33,120.89 611.76,120.91 613.20,121.10 614.68,120.63 616.15,120.85 617.62,120.91 619.10,121.01 620.58,121.34 622.05,121.57 623.52,121.43 625.00,121.31 626.48,121.08 627.95,121.53 629.42,121.80 630.90,121.79 632.38,121.95 633.85,121.74 635.32,121.79 636.80,121.80 638.27,122.17 639.73,122.52 641.20,122.21 642.67,121.98 644.13,122.31 645.60,122.71 647.07,123.05 648.53,122.99 650.00,123.10" fill="none" stroke="#b27ee2" stroke-width="1.4" stroke-linejoin="round" stroke-linecap="round"/>
<polyline points="412.20,140.00 412.50,160.00 414.80,178.30 417.10,188.60 419.40,185.20 421.70,180.60 424.00,177.20 426.20,178.90 428.50,178.90 430.25,176.26 432.00,173.80 433.70,171.84 435.40,170.30 437.10,168.71 438.80,168.10 440.50,168.83 442.20,169.20 443.62,169.67 445.05,170.03 446.47,170.05 447.90,169.80 449.34,169.92 450.79,169.68 452.23,169.58 453.67,169.58 455.11,169.49 456.56,169.59 458.00,169.20 459.56,168.82 461.12,168.21 462.68,167.67 464.24,167.39 465.80,166.80 467.24,166.67 468.67,166.23 470.11,166.26 471.55,166.36 472.98,166.08 474.42,166.25 475.85,166.13 477.29,166.06 478.73,166.06 480.16,165.62 481.60,165.30 483.04,165.18 484.47,165.33 485.91,165.46 487.35,165.14 488.78,164.53 490.22,164.69 491.65,164.87 493.09,165.12 494.53,164.73 495.96,164.42 497.40,164.50 498.84,164.50 500.27,164.61 501.71,164.51 503.15,164.53 504.58,164.33 506.02,164.35 507.45,164.44 508.89,164.26 510.33,164.20 511.76,163.69 513.20,163.70 514.63,162.99 516.05,162.88 517.48,162.88 518.91,162.82 520.34,162.66 521.76,162.80 523.19,162.76 524.62,162.49 526.05,162.24 527.47,161.80 528.90,162.10 530.34,161.75 531.77,161.77 533.21,161.46 534.65,161.20 536.08,161.47 537.52,161.51 538.95,161.47 540.39,161.46 541.83,161.36 543.26,161.23 544.70,161.00 546.12,161.43 547.54,161.22 548.96,161.03 550.38,160.72 551.80,160.69 553.22,160.69 554.63,161.11 556.05,161.26 557.47,161.24 558.89,161.23 560.31,161.44 561.73,161.35 563.15,161.61 564.57,161.36 565.99,161.34 567.41,161.14 568.83,160.80 570.25,160.49 571.67,160.63 573.08,160.43 574.50,160.71 575.92,160.77 577.34,161.11 578.76,161.25 580.18,161.44 581.60,161.00 583.04,160.88 584.47,160.65 585.91,160.65 587.35,160.76 588.78,160.43 590.22,160.26 591.65,160.14 593.09,160.15 594.53,159.97 595.96,159.57 597.40,159.40 598.84,159.74 600.27,159.97 601.71,160.29 603.15,160.23 604.58,160.10 606.02,160.00 607.45,159.70 608.89,159.37 610.33,159.29 611.76,159.20 613.20,159.00 614.62,158.82 616.03,158.95 617.45,159.03 618.86,159.25 620.28,158.64 621.69,158.37 623.11,158.33 624.52,158.34 625.94,158.20 627.35,158.48 628.77,159.00 630.18,158.87 631.60,158.61 633.02,158.31 634.43,158.54 635.85,158.58 637.26,158.75 638.68,158.72 640.09,158.66 641.51,158.68 642.92,158.77 644.34,158.44 645.75,157.96 647.17,158.02 648.58,158.03 650.00,158.20" fill="none" stroke="#d8a631" stroke-width="1.4" stroke-linejoin="round" stroke-linecap="round"/>
<polyline points="412.30,204.00 412.60,180.60 413.70,161.20 416.00,153.20 418.30,149.80 420.00,155.00 422.30,147.50 423.70,148.41 425.10,149.80 426.55,145.93 428.00,142.40 429.40,141.54 430.80,140.70 432.23,140.82 433.65,141.08 435.07,141.11 436.50,141.80 437.93,141.93 439.35,142.00 440.77,142.37 442.20,143.00 443.62,143.25 445.05,143.93 446.47,144.44 447.90,144.70 449.34,144.92 450.79,144.95 452.23,145.03 453.67,145.18 455.11,145.67 456.56,146.00 458.00,146.40 459.56,145.88 461.12,145.39 462.68,145.38 464.24,144.99 465.80,145.20 467.38,145.06 468.95,144.48 470.52,143.85 472.10,143.02 473.68,142.61 475.25,142.45 476.82,142.42 478.40,142.10 479.86,142.18 481.32,142.18 482.78,141.81 484.25,141.76 485.71,141.98 487.17,141.92 488.63,142.00 490.09,142.09 491.55,142.10 493.02,142.30 494.48,142.33 495.94,142.47 497.40,142.40 498.84,142.04 500.27,142.24 501.71,142.45 503.15,142.52 504.58,142.85 506.02,143.29 507.45,143.52 508.89,143.59 510.33,143.66 511.76,143.98 513.20,144.30 514.63,144.25 516.05,144.25 517.48,144.49 518.91,144.64 520.34,144.55 521.76,144.48 523.19,144.23 524.62,144.16 526.05,143.97 527.47,143.90 528.90,144.00 530.34,143.76 531.77,143.93 533.21,144.10 534.65,144.41 536.08,144.31 537.52,144.15 538.95,144.14 540.39,144.34 541.83,144.63 543.26,144.44 544.70,144.30 546.17,144.25 547.64,144.57 549.11,144.50 550.59,144.02 552.06,143.64 553.53,143.85 555.00,144.00 556.40,144.25 557.80,143.79 559.20,143.54 560.60,143.43 562.00,143.30 563.40,143.11 564.80,142.94 566.20,142.96 567.60,143.07 569.00,143.30 570.40,143.43 571.80,143.33 573.20,143.06 574.60,142.76 576.00,142.43 577.40,142.40 578.80,142.56 580.20,142.78 581.60,142.56 583.00,142.66 584.40,142.35 585.80,142.33 587.20,142.35 588.60,142.06 590.00,142.16 591.40,142.18 592.80,142.28 594.20,142.10 595.61,142.07 597.02,141.95 598.43,141.87 599.84,141.67 601.25,141.68 602.66,141.69 604.07,141.68 605.48,141.97 606.89,142.01 608.31,142.33 609.72,142.47 611.13,142.64 612.54,142.38 613.95,142.17 615.36,141.91 616.77,141.93 618.18,141.95 619.59,141.87 621.00,142.10 622.45,142.17 623.90,141.95 625.35,141.75 626.80,141.98 628.25,142.12 629.70,142.15 631.15,142.34 632.60,142.63 634.05,142.36 635.50,141.84 636.95,141.75 638.40,141.87 639.85,142.01 641.30,142.02 642.75,142.11 644.20,142.26 645.65,141.86 647.10,141.92 648.55,142.35 650.00,142.10" fill="none" stroke="#26c2cf" stroke-width="1.4" stroke-linejoin="round" stroke-linecap="round"/>
<polyline points="412.10,160.00 412.50,165.50 414.30,172.60 416.00,181.70 417.70,178.30 419.10,177.50 420.50,177.20 422.80,180.00 424.50,179.35 426.20,178.90 427.73,178.70 429.27,178.27 430.80,177.20 432.23,177.21 433.65,176.53 435.07,176.09 436.50,175.50 437.93,175.19 439.35,174.84 440.77,174.12 442.20,173.20 443.62,173.41 445.05,172.68 446.47,172.24 447.90,171.50 449.34,171.29 450.79,171.00 452.23,171.02 453.67,170.96 455.11,170.81 456.56,170.47 458.00,170.30 459.56,169.76 461.12,169.60 462.68,169.15 464.24,168.77 465.80,167.60 467.24,167.71 468.67,167.50 470.11,167.02 471.55,166.71 472.98,166.85 474.42,166.90 475.85,166.61 477.29,166.14 478.73,165.80 480.16,165.83 481.60,165.70 483.04,166.02 484.47,166.12 485.91,165.73 487.35,165.29 488.78,164.81 490.22,164.75 491.65,164.90 493.09,164.92 494.53,164.70 495.96,164.57 497.40,164.50 498.84,164.49 500.27,164.38 501.71,164.29 503.15,163.94 504.58,163.70 506.02,163.73 507.45,163.75 508.89,163.91 510.33,164.01 511.76,163.61 513.20,163.70 514.63,163.44 516.05,163.70 517.48,163.76 518.91,163.87 520.34,163.70 521.76,163.47 523.19,163.06 524.62,162.62 526.05,162.74 527.47,162.60 528.90,162.90 530.34,163.16 531.77,163.27 533.21,163.28 534.65,163.36 536.08,163.02 537.52,162.74 538.95,162.70 540.39,162.61 541.83,162.97 543.26,162.82 544.70,162.60 546.12,162.97 547.54,162.85 548.96,162.67 550.38,162.65 551.80,162.34 553.22,162.49 554.63,162.68 556.05,162.55 557.47,162.43 558.89,162.41 560.31,162.02 561.73,161.59 563.15,161.48 564.57,161.90 565.99,162.05 567.41,162.23 568.83,162.13 570.25,162.12 571.67,161.91 573.08,161.83 574.50,161.50 575.92,161.24 577.34,161.09 578.76,161.32 580.18,161.28 581.60,161.30 583.04,161.38 584.47,161.33 585.91,161.01 587.35,160.86 588.78,160.81 590.22,160.88 591.65,160.82 593.09,160.49 594.53,160.40 595.96,160.66 597.40,160.50 598.84,160.61 600.27,160.30 601.71,160.23 603.15,160.52 604.58,160.60 606.02,160.42 607.45,160.32 608.89,159.97 610.33,159.78 611.76,159.27 613.20,159.70 614.62,159.29 616.03,159.26 617.45,159.35 618.86,159.30 620.28,159.61 621.69,159.69 623.11,159.81 624.52,159.79 625.94,159.82 627.35,159.45 628.77,158.98 630.18,158.83 631.60,158.55 633.02,158.41 634.43,158.64 635.85,158.83 637.26,159.04 638.68,158.72 640.09,158.79 641.51,158.43 642.92,158.23 644.34,158.54 645.75,159.00 647.17,159.01 648.58,158.60 650.00,158.50" fill="none" stroke="#74474f" stroke-width="1.4" stroke-linejoin="round" stroke-linecap="round"/>
<polyline points="412.20,160.00 412.70,116.60 413.30,103.40 415.40,101.80 416.40,97.60 417.70,92.40 418.50,95.50 419.60,96.60 420.60,98.70 422.70,104.50 424.30,106.72 425.90,109.70 427.45,111.80 429.00,113.90 430.60,115.93 432.20,117.10 433.80,118.70 435.40,119.70 437.25,121.46 439.10,122.40 440.90,121.16 442.70,119.70 444.13,119.72 445.57,119.40 447.00,119.20 448.73,118.98 450.47,118.66 452.20,118.70 453.65,118.26 455.10,118.18 456.55,118.29 458.00,118.20 459.56,118.58 461.12,118.81 462.68,119.09 464.24,119.27 465.80,120.00 467.24,120.05 468.67,120.38 470.11,120.22 471.55,120.09 472.98,120.40 474.42,120.69 475.85,120.81 477.29,120.65 478.73,120.66 480.16,120.81 481.60,121.10 483.18,121.19 484.75,121.84 486.32,122.30 487.90,122.52 489.48,122.78 491.05,122.92 492.62,123.22 494.20,123.40 495.77,123.29 497.35,123.79 498.93,123.82 500.50,124.70 501.91,124.88 503.32,125.16 504.73,124.80 506.14,124.62 507.56,124.58 508.97,124.89 510.38,125.26 511.79,125.01 513.20,125.00 514.63,124.83 516.05,125.24 517.48,125.55 518.91,125.57 520.34,125.32 521.76,125.40 523.19,125.36 524.62,125.38 526.05,125.37 527.47,125.39 528.90,125.80 530.34,125.93 531.77,126.13 533.21,125.74 534.65,125.46 536.08,125.57 537.52,125.93 538.95,126.02 540.39,126.48 541.83,126.64 543.26,126.77 544.70,126.60 546.17,126.66 547.64,126.72 549.11,126.85 550.59,127.09 552.06,127.34 553.53,127.36 555.00,126.90 556.41,127.33 557.83,127.36 559.24,127.60 560.65,127.18 562.07,126.99 563.48,126.81 564.89,126.80 566.31,127.01 567.72,126.74 569.13,126.88 570.55,127.08 571.96,127.28 573.37,127.78 574.79,127.31 576.20,126.76 577.61,126.89 579.03,126.93 580.44,127.28 581.85,127.07 583.27,126.71 584.68,126.99 586.09,127.44 587.51,127.90 588.92,127.40 590.33,127.07 591.75,127.31 593.16,127.50 594.57,127.53 595.99,127.35 597.40,127.40 598.82,127.04 600.24,127.01 601.66,127.08 603.09,127.17 604.51,127.53 605.93,127.53 607.35,127.81 608.77,127.80 610.19,127.57 611.62,127.21 613.04,127.16 614.46,127.06 615.88,127.49 617.30,127.95 618.72,128.20 620.15,128.11 621.57,128.05 622.99,128.08 624.41,127.89 625.83,128.13 627.25,128.07 628.68,127.99 630.10,128.10 631.52,128.02 632.94,128.22 634.36,128.24 635.78,128.32 637.21,128.62 638.63,128.56 640.05,128.44 641.47,128.25 642.89,127.73 644.31,127.86 645.74,127.66 647.16,127.95 648.58,128.18 650.00,128.20" fill="none" stroke="#9a9a26" stroke-width="1.4" stroke-linejoin="round" stroke-linecap="round"/>
<rect x="411.50" y="49.40" width="238.90" height="193.00" fill="none" stroke="#262626" stroke-width="1.05"/>
<line x1="407.90" y1="49.40" x2="411.50" y2="49.40" stroke="#262626" stroke-width="1.1"/>
<line x1="409.20" y1="59.05" x2="411.50" y2="59.05" stroke="#262626" stroke-width="1.1"/>
<line x1="407.90" y1="68.70" x2="411.50" y2="68.70" stroke="#262626" stroke-width="1.1"/>
<line x1="409.20" y1="78.35" x2="411.50" y2="78.35" stroke="#262626" stroke-width="1.1"/>
<line x1="407.90" y1="88.00" x2="411.50" y2="88.00" stroke="#262626" stroke-width="1.1"/>
<line x1="409.20" y1="97.65" x2="411.50" y2="97.65" stroke="#262626" stroke-width="1.1"/>
<line x1="407.90" y1="107.30" x2="411.50" y2="107.30" stroke="#262626" stroke-width="1.1"/>
<line x1="409.20" y1="116.95" x2="411.50" y2="116.95" stroke="#262626" stroke-width="1.1"/>
<line x1="407.90" y1="126.60" x2="411.50" y2="126.60" stroke="#262626" stroke-width="1.1"/>
<line x1="409.20" y1="136.25" x2="411.50" y2="136.25" stroke="#262626" stroke-width="1.1"/>
<line x1="407.90" y1="145.90" x2="411.50" y2="145.90" stroke="#262626" stroke-width="1.1"/>
<line x1="409.20" y1="155.55" x2="411.50" y2="155.55" stroke="#262626" stroke-width="1.1"/>
<line x1="407.90" y1="165.20" x2="411.50" y2="165.20" stroke="#262626" stroke-width="1.1"/>
<line x1="409.20" y1="174.85" x2="411.50" y2="174.85" stroke="#262626" stroke-width="1.1"/>
<line x1="407.90" y1="184.50" x2="411.50" y2="184.50" stroke="#262626" stroke-width="1.1"/>
<line x1="409.20" y1="194.15" x2="411.50" y2="194.15" stroke="#262626" stroke-width="1.1"/>
<line x1="407.90" y1="203.80" x2="411.50" y2="203.80" stroke="#262626" stroke-width="1.1"/>
<line x1="409.20" y1="213.45" x2="411.50" y2="213.45" stroke="#262626" stroke-width="1.1"/>
<line x1="407.90" y1="223.10" x2="411.50" y2="223.10" stroke="#262626" stroke-width="1.1"/>
<line x1="409.20" y1="232.75" x2="411.50" y2="232.75" stroke="#262626" stroke-width="1.1"/>
<line x1="407.90" y1="242.40" x2="411.50" y2="242.40" stroke="#262626" stroke-width="1.1"/>
<line x1="411.50" y1="242.40" x2="411.50" y2="245.70" stroke="#262626" stroke-width="1.1"/>
<line x1="426.43" y1="242.40" x2="426.43" y2="244.60" stroke="#262626" stroke-width="1.1"/>
<line x1="441.36" y1="242.40" x2="441.36" y2="245.70" stroke="#262626" stroke-width="1.1"/>
<line x1="456.29" y1="242.40" x2="456.29" y2="244.60" stroke="#262626" stroke-width="1.1"/>
<line x1="471.23" y1="242.40" x2="471.23" y2="245.70" stroke="#262626" stroke-width="1.1"/>
<line x1="486.16" y1="242.40" x2="486.16" y2="244.60" stroke="#262626" stroke-width="1.1"/>
<line x1="501.09" y1="242.40" x2="501.09" y2="245.70" stroke="#262626" stroke-width="1.1"/>
<line x1="516.02" y1="242.40" x2="516.02" y2="244.60" stroke="#262626" stroke-width="1.1"/>
<line x1="530.95" y1="242.40" x2="530.95" y2="245.70" stroke="#262626" stroke-width="1.1"/>
<line x1="545.88" y1="242.40" x2="545.88" y2="244.60" stroke="#262626" stroke-width="1.1"/>
<line x1="560.81" y1="242.40" x2="560.81" y2="245.70" stroke="#262626" stroke-width="1.1"/>
<line x1="575.74" y1="242.40" x2="575.74" y2="244.60" stroke="#262626" stroke-width="1.1"/>
<line x1="590.67" y1="242.40" x2="590.67" y2="245.70" stroke="#262626" stroke-width="1.1"/>
<line x1="605.61" y1="242.40" x2="605.61" y2="244.60" stroke="#262626" stroke-width="1.1"/>
<line x1="620.54" y1="242.40" x2="620.54" y2="245.70" stroke="#262626" stroke-width="1.1"/>
<line x1="635.47" y1="242.40" x2="635.47" y2="244.60" stroke="#262626" stroke-width="1.1"/>
<line x1="650.40" y1="242.40" x2="650.40" y2="245.70" stroke="#262626" stroke-width="1.1"/>
<line x1="417.90" y1="61.10" x2="437.50" y2="61.10" stroke="#4b4b4b" stroke-width="1.3"/>
<text x="440.50" y="64.40" font-size="9" text-anchor="start" fill="#1e1e1e" stroke="#1e1e1e" stroke-width="0.15" stroke-opacity="0.5">CoCo</text>
<line x1="465.90" y1="61.10" x2="486.50" y2="61.10" stroke="#e04a4a" stroke-width="1.3"/>
<text x="489.20" y="64.40" font-size="9" text-anchor="start" fill="#1e1e1e" stroke="#1e1e1e" stroke-width="0.15" stroke-opacity="0.5">CoCr</text>
<line x1="512.20" y1="61.10" x2="532.60" y2="61.10" stroke="#2f6fcc" stroke-width="1.3"/>
<text x="534.70" y="64.40" font-size="9" text-anchor="start" fill="#1e1e1e" stroke="#1e1e1e" stroke-width="0.15" stroke-opacity="0.5">CoNi</text>
<line x1="557.70" y1="61.10" x2="578.20" y2="61.10" stroke="#3fa874" stroke-width="1.3"/>
<text x="580.30" y="64.40" font-size="9" text-anchor="start" fill="#1e1e1e" stroke="#1e1e1e" stroke-width="0.15" stroke-opacity="0.5">CrCo</text>
<line x1="604.10" y1="61.10" x2="624.60" y2="61.10" stroke="#b27ee2" stroke-width="1.3"/>
<text x="626.70" y="64.40" font-size="9" text-anchor="start" fill="#1e1e1e" stroke="#1e1e1e" stroke-width="0.15" stroke-opacity="0.5">CrCr</text>
<line x1="445.90" y1="72.70" x2="466.40" y2="72.70" stroke="#d8a631" stroke-width="1.3"/>
<text x="468.90" y="76.00" font-size="9" text-anchor="start" fill="#1e1e1e" stroke="#1e1e1e" stroke-width="0.15" stroke-opacity="0.5">CrNi</text>
<line x1="489.70" y1="72.70" x2="510.20" y2="72.70" stroke="#26c2cf" stroke-width="1.3"/>
<text x="512.30" y="76.00" font-size="9" text-anchor="start" fill="#1e1e1e" stroke="#1e1e1e" stroke-width="0.15" stroke-opacity="0.5">NiCo</text>
<line x1="534.20" y1="72.70" x2="555.10" y2="72.70" stroke="#74474f" stroke-width="1.3"/>
<text x="557.20" y="76.00" font-size="9" text-anchor="start" fill="#1e1e1e" stroke="#1e1e1e" stroke-width="0.15" stroke-opacity="0.5">NiCr</text>
<line x1="577.60" y1="72.70" x2="598.00" y2="72.70" stroke="#9a9a26" stroke-width="1.3"/>
<text x="600.20" y="76.00" font-size="9" text-anchor="start" fill="#1e1e1e" stroke="#1e1e1e" stroke-width="0.15" stroke-opacity="0.5">NiNi</text>
<text x="15.20" y="336.60" font-size="16.0" text-anchor="start" fill="#000" stroke="#000" stroke-width="0.15" >c</text>
<text transform="translate(19.30,433.10) rotate(-90)" font-size="13.7" text-anchor="middle" fill="#000" stroke="#000" stroke-width="0.15">SRO parameter (α)</text>
<text x="65.80" y="345.99" font-size="13.2" text-anchor="end" fill="#000" stroke="#000" stroke-width="0.15" >0.010</text>
<text x="65.80" y="363.89" font-size="13.2" text-anchor="end" fill="#000" stroke="#000" stroke-width="0.15" >0.008</text>
<text x="65.80" y="382.79" font-size="13.2" text-anchor="end" fill="#000" stroke="#000" stroke-width="0.15" >0.006</text>
<text x="65.80" y="400.99" font-size="13.2" text-anchor="end" fill="#000" stroke="#000" stroke-width="0.15" >0.004</text>
<text x="65.80" y="419.39" font-size="13.2" text-anchor="end" fill="#000" stroke="#000" stroke-width="0.15" >0.002</text>
<text x="65.80" y="438.39" font-size="13.2" text-anchor="end" fill="#000" stroke="#000" stroke-width="0.15" >0</text>
<text x="65.80" y="457.69" font-size="13.2" text-anchor="end" fill="#000" stroke="#000" stroke-width="0.15" >-0.002</text>
<text x="65.80" y="477.29" font-size="13.2" text-anchor="end" fill="#000" stroke="#000" stroke-width="0.15" >-0.004</text>
<text x="65.80" y="495.69" font-size="13.2" text-anchor="end" fill="#000" stroke="#000" stroke-width="0.15" >-0.006</text>
<text x="65.80" y="514.49" font-size="13.2" text-anchor="end" fill="#000" stroke="#000" stroke-width="0.15" >-0.008</text>
<text x="65.80" y="530.59" font-size="13.2" text-anchor="end" fill="#000" stroke="#000" stroke-width="0.15" >-0.010</text>
<text x="74.70" y="545.80" font-size="13.2" text-anchor="middle" fill="#000" stroke="#000" stroke-width="0.15" >0</text>
<text x="102.80" y="545.80" font-size="13.2" text-anchor="middle" fill="#000" stroke="#000" stroke-width="0.15" >25</text>
<text x="132.50" y="545.80" font-size="13.2" text-anchor="middle" fill="#000" stroke="#000" stroke-width="0.15" >50</text>
<text x="163.50" y="545.80" font-size="13.2" text-anchor="middle" fill="#000" stroke="#000" stroke-width="0.15" >75</text>
<text x="189.40" y="545.80" font-size="13.2" text-anchor="middle" fill="#000" stroke="#000" stroke-width="0.15" >100</text>
<text x="218.00" y="545.80" font-size="13.2" text-anchor="middle" fill="#000" stroke="#000" stroke-width="0.15" >125</text>
<text x="247.70" y="545.80" font-size="13.2" text-anchor="middle" fill="#000" stroke="#000" stroke-width="0.15" >150</text>
<text x="275.90" y="545.80" font-size="13.2" text-anchor="middle" fill="#000" stroke="#000" stroke-width="0.15" >175</text>
<text x="305.40" y="545.80" font-size="13.2" text-anchor="middle" fill="#000" stroke="#000" stroke-width="0.15" >200</text>
<text x="189.90" y="563.80" font-size="13.3" text-anchor="middle" fill="#000" stroke="#000" stroke-width="0.15" >kNN</text>
<text x="260.30" y="504.90" font-size="14.9" text-anchor="start" fill="#000" stroke="#000" stroke-width="0.15" >AH</text>
<text transform="translate(322.70,431.00) rotate(90)" font-size="10.7" text-anchor="middle" fill="#000" stroke="#000" stroke-width="0.15">Random</text>
<text transform="translate(310.20,431.00) rotate(90)" font-size="10.7" text-anchor="middle" fill="#000" stroke="#000" stroke-width="0.15">(± 0.00022)</text>
<rect x="301.40" y="430.70" width="3.8" height="5.2" fill="#b8b8b8"/>
<polyline points="75.60,430.00 76.50,436.00 78.30,437.90 80.40,439.50 82.50,440.50 84.60,438.40 86.20,437.28 87.80,437.40 89.20,437.62 90.60,437.15 92.00,436.30 93.77,437.41 95.53,437.85 97.30,438.40 98.70,438.88 100.10,439.09 101.50,438.90 103.23,438.73 104.97,438.65 106.70,438.90 108.47,439.28 110.23,439.66 112.00,440.00 113.77,440.02 115.53,439.52 117.30,438.90 118.87,438.40 120.43,438.15 122.00,438.40 123.52,438.32 125.04,438.34 126.56,438.22 128.08,438.13 129.60,437.70 131.06,437.50 132.52,437.46 133.98,437.79 135.44,437.91 136.90,437.70 138.36,437.54 139.82,437.13 141.28,437.12 142.74,436.82 144.20,436.50 145.66,436.18 147.12,436.24 148.58,436.45 150.04,436.47 151.50,436.36 152.96,436.15 154.42,435.92 155.88,435.69 157.34,435.51 158.80,435.00 160.26,435.54 161.72,435.41 163.18,435.52 164.64,434.92 166.10,434.61 167.56,434.35 169.02,434.34 170.48,434.30 171.94,434.80 173.40,434.98 174.86,434.86 176.32,434.44 177.78,434.45 179.24,434.53 180.70,434.70 182.13,434.47 183.56,434.94 184.99,434.61 186.42,434.45 187.85,434.17 189.27,434.05 190.70,434.06 192.13,434.13 193.56,434.22 194.99,434.42 196.42,434.39 197.85,434.47 199.28,434.35 200.71,434.15 202.14,434.24 203.57,434.20 205.00,434.31 206.43,434.39 207.85,434.47 209.28,434.46 210.71,434.09 212.14,434.00 213.57,434.29 215.00,434.30 216.41,434.78 217.81,434.43 219.22,434.28 220.62,434.42 222.03,434.82 223.44,434.69 224.84,434.09 226.25,433.84 227.66,433.94 229.06,434.09 230.47,434.10 231.88,434.25 233.28,433.96 234.69,434.01 236.09,433.70 237.50,433.78 238.91,433.82 240.31,434.22 241.72,434.25 243.12,434.07 244.53,434.55 245.94,434.82 247.34,434.84 248.75,434.40 250.16,434.19 251.56,434.11 252.97,434.57 254.38,434.71 255.78,434.63 257.19,434.77 258.59,434.69 260.00,434.40 261.43,434.36 262.86,434.52 264.28,434.74 265.71,434.80 267.14,434.80 268.57,434.79 270.00,434.57 271.43,434.48 272.85,434.39 274.28,434.15 275.71,434.27 277.14,434.41 278.57,434.42 279.99,434.48 281.42,434.71 282.85,434.41 284.28,434.51 285.71,434.09 287.13,434.21 288.56,434.54 289.99,434.37 291.42,434.16 292.85,433.89 294.27,433.72 295.70,433.44 297.13,433.59 298.56,433.89 299.99,433.94 301.42,433.62 302.84,433.53 304.27,433.45 305.70,434.00" fill="none" stroke="#4b4b4b" stroke-width="1.4" stroke-linejoin="round" stroke-linecap="round"/>
<polyline points="75.60,398.00 75.70,403.70 77.30,408.90 78.30,419.50 79.90,424.70 82.50,426.30 84.60,428.90 86.70,433.20 88.30,434.00 89.90,434.70 91.50,435.43 93.10,436.30 95.20,437.40 96.75,435.97 98.30,435.30 100.07,434.57 101.83,434.00 103.60,433.20 105.33,432.80 107.07,432.44 108.80,432.10 110.28,432.05 111.76,432.51 113.24,432.76 114.72,432.84 116.20,432.60 117.65,432.45 119.10,433.03 120.55,433.46 122.00,433.20 123.49,433.11 124.98,432.95 126.47,433.00 127.96,432.98 129.45,433.17 130.94,433.32 132.43,433.75 133.92,434.20 135.41,434.29 136.90,433.90 138.36,433.78 139.82,433.76 141.28,433.85 142.74,434.08 144.20,434.10 145.66,434.23 147.12,434.51 148.58,434.57 150.04,434.74 151.50,434.71 152.96,434.89 154.42,435.00 155.88,435.32 157.34,435.20 158.80,435.00 160.26,434.90 161.72,434.95 163.18,435.14 164.64,435.10 166.10,434.73 167.56,434.83 169.02,435.26 170.48,435.40 171.94,435.31 173.40,435.50 174.86,435.34 176.32,435.25 177.78,435.11 179.24,434.96 180.70,435.30 182.13,434.91 183.56,435.34 184.99,435.01 186.42,434.73 187.85,434.67 189.27,434.91 190.70,434.80 192.13,435.16 193.56,435.23 194.99,435.43 196.42,435.08 197.85,434.92 199.28,434.72 200.71,434.47 202.14,434.22 203.57,434.22 205.00,434.34 206.43,434.63 207.85,434.88 209.28,434.76 210.71,434.75 212.14,434.86 213.57,434.73 215.00,434.70 216.41,434.39 217.81,434.68 219.22,434.67 220.62,434.60 222.03,434.79 223.44,434.85 224.84,434.67 226.25,434.60 227.66,434.61 229.06,434.32 230.47,434.39 231.88,434.25 233.28,434.53 234.69,434.82 236.09,435.06 237.50,434.94 238.91,434.73 240.31,434.41 241.72,435.00 243.12,435.25 244.53,435.52 245.94,435.69 247.34,435.55 248.75,435.48 250.16,435.41 251.56,435.26 252.97,435.43 254.38,435.56 255.78,435.76 257.19,435.95 258.59,435.52 260.00,435.30 261.43,435.06 262.86,435.26 264.28,435.59 265.71,435.35 267.14,435.31 268.57,435.19 270.00,435.02 271.43,435.06 272.85,434.96 274.28,435.29 275.71,435.32 277.14,435.40 278.57,435.27 279.99,435.56 281.42,435.69 282.85,435.50 284.28,435.33 285.71,435.05 287.13,435.36 288.56,435.62 289.99,435.58 291.42,435.49 292.85,435.41 294.27,435.50 295.70,435.65 297.13,435.80 298.56,435.65 299.99,435.74 301.42,435.48 302.84,435.52 304.27,435.12 305.70,435.20" fill="none" stroke="#e04a4a" stroke-width="1.4" stroke-linejoin="round" stroke-linecap="round"/>
<polyline points="75.60,461.00 75.70,455.80 76.90,448.40 78.80,440.40 80.60,436.80 82.50,432.10 84.10,430.43 85.70,428.90 87.25,427.69 88.80,426.30 90.23,425.58 91.67,425.51 93.10,425.80 94.83,425.76 96.57,425.81 98.30,425.30 100.07,425.28 101.83,425.54 103.60,426.30 105.33,426.43 107.07,426.97 108.80,426.80 110.28,426.86 111.76,426.86 113.24,426.79 114.72,426.88 116.20,426.80 117.65,427.03 119.10,427.06 120.55,427.15 122.00,427.40 123.48,427.95 124.96,428.03 126.44,428.08 127.92,427.74 129.40,428.00 130.88,428.18 132.36,428.32 133.84,428.00 135.32,427.52 136.80,427.92 138.28,428.18 139.76,428.10 141.24,428.10 142.72,428.09 144.20,428.50 145.66,428.50 147.12,428.67 148.58,428.88 150.04,428.99 151.50,428.84 152.96,428.98 154.42,429.13 155.88,429.22 157.34,428.77 158.80,428.63 160.26,428.45 161.72,428.77 163.18,429.20 164.64,428.90 166.10,428.61 167.56,428.60 169.02,428.74 170.48,428.72 171.94,428.81 173.40,429.20 174.83,428.94 176.27,429.00 177.70,429.21 179.14,429.39 180.57,429.68 182.01,429.35 183.44,429.20 184.88,429.07 186.31,429.59 187.74,429.64 189.18,429.88 190.61,429.69 192.05,429.82 193.48,429.64 194.92,429.76 196.35,429.68 197.79,429.97 199.22,429.91 200.66,429.58 202.09,429.56 203.52,429.61 204.96,429.53 206.39,429.75 207.83,430.23 209.26,430.28 210.70,429.91 212.13,429.86 213.57,429.88 215.00,429.90 216.42,430.11 217.85,430.03 219.27,429.81 220.69,429.97 222.12,430.17 223.54,430.19 224.96,430.39 226.39,430.31 227.81,430.16 229.24,430.09 230.66,430.41 232.08,430.88 233.51,430.88 234.93,430.80 236.35,430.38 237.78,430.45 239.20,430.90 240.66,430.58 242.12,430.57 243.58,430.78 245.04,430.79 246.50,430.69 247.96,430.83 249.42,430.66 250.88,430.59 252.34,430.88 253.80,431.18 255.26,431.08 256.72,430.68 258.18,430.73 259.64,430.88 261.10,430.78 262.56,431.12 264.02,431.29 265.48,430.96 266.94,430.70 268.40,430.70 269.83,430.72 271.27,430.88 272.70,431.04 274.14,431.24 275.57,431.27 277.01,430.87 278.44,430.61 279.88,430.62 281.31,430.37 282.75,430.35 284.18,430.47 285.62,430.82 287.05,430.68 288.48,430.66 289.92,430.69 291.35,431.07 292.79,431.23 294.22,430.86 295.66,430.61 297.09,430.47 298.53,430.43 299.96,430.38 301.40,430.40 302.83,430.25 304.27,430.50 305.70,430.70" fill="none" stroke="#2f6fcc" stroke-width="1.4" stroke-linejoin="round" stroke-linecap="round"/>
<polyline points="75.60,402.00 76.20,398.40 78.30,401.60 79.90,408.90 81.50,414.20 83.60,418.40 85.20,420.50 87.30,423.70 89.90,426.30 91.50,426.55 93.10,427.90 94.83,428.18 96.57,428.73 98.30,428.90 100.07,428.26 101.83,428.19 103.60,427.90 105.33,428.24 107.07,428.11 108.80,428.90 110.28,429.51 111.76,429.59 113.24,429.40 114.72,429.64 116.20,430.00 117.65,430.28 119.10,430.53 120.55,430.63 122.00,430.50 123.48,430.95 124.96,430.89 126.44,430.70 127.92,430.34 129.40,430.44 130.88,430.69 132.36,430.89 133.84,431.28 135.32,431.56 136.80,431.45 138.28,431.71 139.76,431.42 141.24,431.15 142.72,431.24 144.20,431.80 145.66,431.96 147.12,432.01 148.58,431.88 150.04,432.20 151.50,432.56 152.96,432.44 154.42,432.31 155.88,432.09 157.34,432.17 158.80,432.34 160.26,432.54 161.72,432.29 163.18,432.10 164.64,432.05 166.10,432.16 167.56,432.18 169.02,432.45 170.48,432.39 171.94,432.50 173.40,432.80 174.83,432.81 176.27,432.79 177.70,432.57 179.14,432.56 180.57,432.32 182.01,432.49 183.44,432.65 184.88,432.90 186.31,433.24 187.74,433.36 189.18,433.16 190.61,433.13 192.05,433.00 193.48,432.88 194.92,432.62 196.35,433.04 197.79,433.26 199.22,433.30 200.66,433.50 202.09,433.44 203.52,433.54 204.96,433.70 206.39,433.38 207.83,433.02 209.26,432.95 210.70,433.17 212.13,433.56 213.57,433.66 215.00,433.30 216.41,433.64 217.81,433.69 219.22,433.75 220.62,433.59 222.03,433.31 223.44,433.45 224.84,433.71 226.25,433.99 227.66,434.05 229.06,433.89 230.47,433.81 231.88,433.91 233.28,433.95 234.69,433.67 236.09,433.67 237.50,433.67 238.91,433.56 240.31,433.50 241.72,433.82 243.12,433.90 244.53,434.05 245.94,434.26 247.34,434.10 248.75,434.03 250.16,433.82 251.56,433.86 252.97,434.21 254.38,434.17 255.78,434.19 257.19,434.41 258.59,434.30 260.00,434.20 261.43,433.96 262.86,433.99 264.28,434.05 265.71,433.97 267.14,434.29 268.57,434.28 270.00,434.00 271.43,434.01 272.85,433.94 274.28,433.75 275.71,433.97 277.14,434.29 278.57,434.79 279.99,434.38 281.42,434.12 282.85,434.23 284.28,434.67 285.71,434.76 287.13,434.88 288.56,434.84 289.99,434.82 291.42,434.54 292.85,434.34 294.27,434.56 295.70,434.54 297.13,434.41 298.56,434.57 299.99,434.92 301.42,434.87 302.84,434.99 304.27,435.04 305.70,434.50" fill="none" stroke="#3fa874" stroke-width="1.4" stroke-linejoin="round" stroke-linecap="round"/>
<polyline points="75.60,400.00 76.20,408.90 77.30,419.50 79.40,426.80 81.50,423.70 83.05,422.97 84.60,422.60 86.37,422.89 88.13,423.23 89.90,423.20 91.67,423.67 93.43,423.32 95.20,422.60 96.78,422.04 98.35,422.19 99.92,422.24 101.50,422.10 103.08,421.25 104.65,421.19 106.22,420.93 107.80,421.10 109.38,421.00 110.95,421.43 112.52,421.88 114.10,422.60 115.72,422.59 117.33,422.81 118.95,422.55 120.57,422.21 122.18,421.95 123.80,421.60 125.26,421.56 126.71,421.74 128.17,422.08 129.63,422.17 131.09,422.26 132.54,422.12 134.00,422.08 135.46,421.94 136.91,421.99 138.37,422.19 139.83,422.06 141.29,422.03 142.74,422.17 144.20,422.60 145.66,422.30 147.12,422.60 148.58,423.07 150.04,423.14 151.50,422.84 152.96,423.02 154.42,423.07 155.88,423.14 157.34,423.16 158.80,423.23 160.26,423.37 161.72,423.85 163.18,423.92 164.64,423.84 166.10,424.10 167.56,424.06 169.02,424.26 170.48,424.57 171.94,424.75 173.40,424.63 174.86,424.66 176.32,424.70 177.78,424.66 179.24,424.53 180.70,424.39 182.16,424.86 183.62,425.15 185.08,425.32 186.54,424.77 188.00,425.10 189.42,424.63 190.84,424.72 192.26,424.95 193.68,424.93 195.11,425.18 196.53,425.56 197.95,425.78 199.37,425.56 200.79,425.45 202.21,425.09 203.63,425.43 205.05,425.57 206.47,425.36 207.89,425.37 209.32,425.33 210.74,425.25 212.16,425.30 213.58,425.15 215.00,425.50 216.41,425.09 217.81,425.31 219.22,425.33 220.62,425.52 222.03,425.55 223.43,425.47 224.84,425.89 226.24,425.97 227.65,426.13 229.05,425.85 230.46,425.95 231.86,425.90 233.27,425.81 234.67,425.48 236.08,425.42 237.48,425.51 238.89,425.62 240.29,425.85 241.70,425.72 243.11,425.51 244.51,425.66 245.92,425.98 247.32,426.20 248.73,426.04 250.13,425.84 251.54,425.90 252.94,426.12 254.35,426.11 255.75,426.37 257.16,426.60 258.56,426.37 259.97,426.19 261.37,426.09 262.78,426.50 264.18,426.58 265.59,426.61 266.99,426.58 268.40,426.30 269.83,426.45 271.27,426.71 272.70,426.42 274.14,425.92 275.57,425.73 277.01,425.92 278.44,426.02 279.88,426.11 281.31,426.33 282.75,426.48 284.18,426.21 285.62,426.35 287.05,426.46 288.48,426.43 289.92,426.35 291.35,425.90 292.79,425.72 294.22,425.53 295.66,425.22 297.09,425.26 298.53,425.37 299.96,425.19 301.40,425.06 302.83,425.19 304.27,425.20 305.70,425.50" fill="none" stroke="#b27ee2" stroke-width="1.4" stroke-linejoin="round" stroke-linecap="round"/>
<polyline points="75.60,480.00 76.30,486.50 77.50,470.50 79.40,458.30 81.80,457.00 84.30,455.80 86.15,453.07 88.00,449.70 89.85,447.64 91.70,446.00 93.33,446.24 94.97,445.87 96.60,446.00 98.12,446.21 99.65,446.80 101.17,447.04 102.70,447.80 104.25,447.24 105.80,447.60 107.35,447.79 108.90,447.20 110.43,446.70 111.95,446.50 113.47,446.49 115.00,446.60 116.40,446.12 117.80,446.16 119.20,445.83 120.60,445.97 122.00,446.00 123.48,445.74 124.96,445.65 126.44,445.41 127.92,445.46 129.40,445.53 130.88,445.53 132.36,445.11 133.84,444.79 135.32,444.41 136.80,444.54 138.28,444.73 139.76,444.81 141.24,445.00 142.72,445.12 144.20,444.50 145.66,444.26 147.12,443.82 148.58,443.56 150.04,443.56 151.50,443.99 152.96,444.16 154.42,444.04 155.88,443.79 157.34,443.72 158.80,443.23 160.26,442.86 161.72,442.67 163.18,442.55 164.64,442.57 166.10,442.78 167.56,442.66 169.02,442.46 170.48,442.48 171.94,442.41 173.40,442.00 174.86,442.29 176.32,441.88 177.78,441.62 179.24,442.02 180.70,442.20 182.16,441.78 183.62,441.28 185.08,441.11 186.54,441.14 188.00,441.17 189.46,441.11 190.92,441.02 192.38,441.05 193.84,441.47 195.30,440.90 196.71,441.53 198.11,441.32 199.52,441.34 200.93,441.18 202.34,441.05 203.74,440.82 205.15,440.81 206.56,440.52 207.96,440.03 209.37,440.09 210.78,440.29 212.19,440.48 213.59,440.02 215.00,440.20 216.44,440.02 217.87,440.03 219.31,440.24 220.75,440.07 222.19,439.84 223.62,439.94 225.06,440.02 226.50,440.14 227.93,439.60 229.37,439.23 230.81,439.22 232.24,439.15 233.68,439.12 235.12,438.96 236.56,438.84 237.99,438.94 239.43,439.14 240.87,439.28 242.30,439.23 243.74,439.52 245.18,438.98 246.61,438.64 248.05,438.66 249.49,438.63 250.93,438.88 252.36,438.90 253.80,438.60 255.20,438.77 256.61,438.49 258.01,438.30 259.41,438.27 260.81,438.28 262.22,438.34 263.62,438.29 265.02,438.17 266.42,437.96 267.83,438.03 269.23,438.14 270.63,438.04 272.04,438.33 273.44,438.38 274.84,438.75 276.24,438.76 277.65,438.80 279.05,438.92 280.45,438.85 281.85,438.87 283.26,438.72 284.66,438.49 286.06,438.36 287.46,438.36 288.87,438.32 290.27,438.41 291.67,438.14 293.08,438.14 294.48,438.29 295.88,438.39 297.28,438.52 298.69,438.60 300.09,438.71 301.49,438.21 302.89,437.86 304.30,437.88 305.70,438.30" fill="none" stroke="#d8a631" stroke-width="1.4" stroke-linejoin="round" stroke-linecap="round"/>
<polyline points="75.60,433.00 76.20,434.20 78.30,437.40 80.40,434.20 82.50,432.10 84.60,430.50 86.20,428.50 87.80,427.40 89.57,427.52 91.33,426.85 93.10,425.80 94.83,426.15 96.57,426.31 98.30,426.30 100.07,426.70 101.83,426.86 103.60,427.40 105.00,427.04 106.40,427.04 107.80,427.03 109.20,427.43 110.60,427.51 112.00,427.90 113.43,428.20 114.86,428.38 116.29,428.60 117.71,428.58 119.14,428.65 120.57,428.63 122.00,428.90 123.48,429.14 124.96,429.26 126.44,429.56 127.92,429.59 129.40,429.64 130.88,429.31 132.36,429.47 133.84,429.65 135.32,430.20 136.80,430.45 138.28,430.64 139.76,430.80 141.24,430.51 142.72,430.59 144.20,430.70 145.66,430.75 147.12,430.76 148.58,430.38 150.04,430.27 151.50,430.53 152.96,430.88 154.42,430.87 155.88,431.19 157.34,431.16 158.80,430.74 160.26,430.63 161.72,430.72 163.18,431.00 164.64,430.85 166.10,431.10 167.56,430.94 169.02,430.81 170.48,430.95 171.94,431.13 173.40,431.40 174.83,431.22 176.27,431.44 177.70,431.34 179.14,431.78 180.57,431.91 182.01,431.64 183.44,431.49 184.88,431.17 186.31,430.84 187.74,430.92 189.18,430.94 190.61,431.22 192.05,431.07 193.48,431.00 194.92,430.98 196.35,430.99 197.79,431.08 199.22,431.41 200.66,431.28 202.09,431.47 203.52,431.37 204.96,431.78 206.39,431.37 207.83,431.19 209.26,431.23 210.70,431.52 212.13,431.70 213.57,431.88 215.00,431.40 216.41,432.03 217.81,432.05 219.22,431.98 220.62,432.11 222.03,432.21 223.44,432.02 224.84,432.09 226.25,431.94 227.66,432.03 229.06,431.81 230.47,431.93 231.88,432.03 233.28,432.23 234.69,432.13 236.09,432.13 237.50,432.11 238.91,431.91 240.31,431.92 241.72,432.29 243.12,432.91 244.53,432.89 245.94,432.42 247.34,432.32 248.75,432.30 250.16,432.28 251.56,432.62 252.97,432.77 254.38,433.28 255.78,432.97 257.19,432.60 258.59,432.89 260.00,433.00 261.43,433.41 262.86,433.20 264.28,433.13 265.71,433.30 267.14,433.30 268.57,433.56 270.00,433.32 271.43,433.37 272.85,433.40 274.28,433.60 275.71,433.60 277.14,433.43 278.57,433.31 279.99,433.43 281.42,433.37 282.85,433.37 284.28,433.72 285.71,433.83 287.13,433.63 288.56,433.46 289.99,433.31 291.42,433.05 292.85,432.86 294.27,432.87 295.70,432.84 297.13,432.69 298.56,433.04 299.99,433.00 301.42,433.11 302.84,433.25 304.27,433.46 305.70,433.30" fill="none" stroke="#26c2cf" stroke-width="1.4" stroke-linejoin="round" stroke-linecap="round"/>
<polyline points="75.60,440.00 76.30,470.50 78.80,458.30 80.60,457.60 83.00,458.90 84.85,457.36 86.70,456.40 88.55,456.05 90.40,455.80 92.25,453.96 94.10,452.70 95.73,453.54 97.37,453.86 99.00,454.00 100.63,454.09 102.27,454.72 103.90,455.20 105.57,455.08 107.23,454.66 108.90,454.00 110.53,452.97 112.17,452.26 113.80,452.10 115.44,451.96 117.08,452.02 118.72,451.99 120.36,451.82 122.00,451.50 123.52,451.56 125.04,451.15 126.56,450.97 128.08,450.79 129.60,450.40 131.06,450.68 132.52,450.46 133.98,450.09 135.44,449.74 136.90,450.05 138.36,450.13 139.82,449.97 141.28,449.47 142.74,449.01 144.20,448.99 145.66,448.91 147.12,449.01 148.58,448.77 150.04,448.80 151.50,448.90 152.96,448.79 154.42,448.59 155.88,448.39 157.34,448.28 158.80,448.30 160.26,448.19 161.72,448.38 163.18,448.36 164.64,448.28 166.10,448.16 167.56,447.99 169.02,447.96 170.48,447.72 171.94,447.34 173.40,447.40 174.86,447.04 176.32,447.05 177.78,446.99 179.24,447.03 180.70,446.81 182.16,447.13 183.62,447.10 185.08,447.32 186.54,447.47 188.00,447.68 189.46,447.37 190.92,447.30 192.38,447.21 193.84,447.27 195.30,447.00 196.71,446.75 198.11,446.39 199.52,446.68 200.93,446.94 202.34,447.19 203.74,446.85 205.15,446.41 206.56,446.43 207.96,446.39 209.37,446.45 210.78,446.63 212.19,446.51 213.59,446.79 215.00,446.60 216.42,446.64 217.85,446.40 219.27,445.95 220.69,446.26 222.12,446.36 223.54,446.09 224.96,445.98 226.39,445.74 227.81,445.60 229.24,445.95 230.66,445.59 232.08,445.08 233.51,444.93 234.93,444.87 236.35,444.91 237.78,444.69 239.20,444.50 240.66,444.76 242.12,444.61 243.58,444.23 245.04,444.43 246.50,444.38 247.96,444.63 249.42,444.83 250.88,444.82 252.34,444.66 253.80,444.46 255.26,444.30 256.72,443.98 258.18,443.61 259.64,444.02 261.10,444.08 262.56,444.12 264.02,444.01 265.48,443.97 266.94,443.81 268.40,443.80 269.83,444.00 271.27,444.18 272.70,443.96 274.14,443.40 275.57,443.35 277.01,443.37 278.44,443.75 279.88,443.71 281.31,443.91 282.75,444.25 284.18,444.14 285.62,444.31 287.05,443.90 288.48,443.80 289.92,443.67 291.35,443.56 292.79,443.23 294.22,443.30 295.66,443.04 297.09,443.26 298.53,443.44 299.96,443.67 301.40,443.54 302.83,443.58 304.27,443.44 305.70,443.50" fill="none" stroke="#74474f" stroke-width="1.4" stroke-linejoin="round" stroke-linecap="round"/>
<polyline points="75.60,405.00 76.20,397.90 77.30,394.70 78.30,396.30 79.40,402.60 80.90,405.30 82.50,406.80 84.60,409.50 87.30,412.60 89.90,415.80 92.00,417.40 94.10,420.00 95.70,418.93 97.30,418.40 98.70,418.11 100.10,417.73 101.50,416.80 103.23,417.22 104.97,417.55 106.70,417.60 108.47,417.90 110.23,417.34 112.00,417.20 113.77,417.92 115.53,417.91 117.30,417.60 118.87,417.60 120.43,417.25 122.00,416.80 123.52,416.81 125.04,416.77 126.56,416.77 128.08,416.90 129.60,417.50 131.06,417.65 132.52,417.96 133.98,417.94 135.44,417.84 136.90,417.57 138.36,417.23 139.82,417.72 141.28,417.96 142.74,418.15 144.20,418.51 145.66,418.56 147.12,418.58 148.58,418.43 150.04,418.08 151.50,418.20 152.96,417.80 154.42,417.75 155.88,417.74 157.34,418.05 158.80,418.40 160.26,418.33 161.72,418.16 163.18,417.79 164.64,417.79 166.10,417.63 167.56,417.85 169.02,418.15 170.48,418.26 171.94,418.31 173.40,418.20 174.86,418.52 176.32,418.39 177.78,418.31 179.24,418.12 180.70,417.76 182.16,417.88 183.62,418.17 185.08,418.27 186.54,418.50 188.00,418.72 189.46,418.73 190.92,418.98 192.38,418.90 193.84,418.84 195.30,418.70 196.71,418.85 198.11,419.22 199.52,418.91 200.93,418.93 202.34,418.74 203.74,418.77 205.15,418.62 206.56,418.65 207.96,418.43 209.37,418.71 210.78,419.11 212.19,419.47 213.59,419.55 215.00,419.00 216.42,419.35 217.83,418.93 219.25,418.50 220.67,418.69 222.09,418.71 223.50,418.97 224.92,418.92 226.34,418.83 227.75,418.95 229.17,419.15 230.59,419.21 232.01,419.02 233.42,418.97 234.84,418.91 236.26,418.93 237.68,418.93 239.09,418.91 240.51,418.76 241.93,418.64 243.34,418.76 244.76,418.81 246.18,418.95 247.60,419.19 249.01,419.23 250.43,419.47 251.85,419.43 253.26,419.07 254.68,419.14 256.10,418.92 257.52,419.03 258.93,419.27 260.35,419.74 261.77,419.62 263.18,419.29 264.60,418.67 266.02,419.04 267.44,419.57 268.85,419.81 270.27,420.02 271.69,419.89 273.10,419.86 274.52,419.51 275.94,419.43 277.36,419.59 278.77,419.35 280.19,419.31 281.61,419.39 283.02,419.30 284.44,419.15 285.86,419.24 287.28,419.58 288.69,419.77 290.11,419.76 291.53,419.88 292.95,419.83 294.36,419.74 295.78,419.81 297.20,419.80 298.61,419.84 300.03,419.87 301.45,419.57 302.87,419.30 304.28,419.21 305.70,419.70" fill="none" stroke="#9a9a26" stroke-width="1.4" stroke-linejoin="round" stroke-linecap="round"/>
<rect x="75.10" y="339.70" width="230.60" height="186.60" fill="none" stroke="#262626" stroke-width="1.05"/>
<line x1="71.50" y1="339.70" x2="75.10" y2="339.70" stroke="#262626" stroke-width="1.1"/>
<line x1="72.80" y1="349.03" x2="75.10" y2="349.03" stroke="#262626" stroke-width="1.1"/>
<line x1="71.50" y1="358.36" x2="75.10" y2="358.36" stroke="#262626" stroke-width="1.1"/>
<line x1="72.80" y1="367.69" x2="75.10" y2="367.69" stroke="#262626" stroke-width="1.1"/>
<line x1="71.50" y1="377.02" x2="75.10" y2="377.02" stroke="#262626" stroke-width="1.1"/>
<line x1="72.80" y1="386.35" x2="75.10" y2="386.35" stroke="#262626" stroke-width="1.1"/>
<line x1="71.50" y1="395.68" x2="75.10" y2="395.68" stroke="#262626" stroke-width="1.1"/>
<line x1="72.80" y1="405.01" x2="75.10" y2="405.01" stroke="#262626" stroke-width="1.1"/>
<line x1="71.50" y1="414.34" x2="75.10" y2="414.34" stroke="#262626" stroke-width="1.1"/>
<line x1="72.80" y1="423.67" x2="75.10" y2="423.67" stroke="#262626" stroke-width="1.1"/>
<line x1="71.50" y1="433.00" x2="75.10" y2="433.00" stroke="#262626" stroke-width="1.1"/>
<line x1="72.80" y1="442.33" x2="75.10" y2="442.33" stroke="#262626" stroke-width="1.1"/>
<line x1="71.50" y1="451.66" x2="75.10" y2="451.66" stroke="#262626" stroke-width="1.1"/>
<line x1="72.80" y1="460.99" x2="75.10" y2="460.99" stroke="#262626" stroke-width="1.1"/>
<line x1="71.50" y1="470.32" x2="75.10" y2="470.32" stroke="#262626" stroke-width="1.1"/>
<line x1="72.80" y1="479.65" x2="75.10" y2="479.65" stroke="#262626" stroke-width="1.1"/>
<line x1="71.50" y1="488.98" x2="75.10" y2="488.98" stroke="#262626" stroke-width="1.1"/>
<line x1="72.80" y1="498.31" x2="75.10" y2="498.31" stroke="#262626" stroke-width="1.1"/>
<line x1="71.50" y1="507.64" x2="75.10" y2="507.64" stroke="#262626" stroke-width="1.1"/>
<line x1="72.80" y1="516.97" x2="75.10" y2="516.97" stroke="#262626" stroke-width="1.1"/>
<line x1="71.50" y1="526.30" x2="75.10" y2="526.30" stroke="#262626" stroke-width="1.1"/>
<line x1="75.10" y1="526.30" x2="75.10" y2="529.60" stroke="#262626" stroke-width="1.1"/>
<line x1="89.51" y1="526.30" x2="89.51" y2="528.50" stroke="#262626" stroke-width="1.1"/>
<line x1="103.92" y1="526.30" x2="103.92" y2="529.60" stroke="#262626" stroke-width="1.1"/>
<line x1="118.34" y1="526.30" x2="118.34" y2="528.50" stroke="#262626" stroke-width="1.1"/>
<line x1="132.75" y1="526.30" x2="132.75" y2="529.60" stroke="#262626" stroke-width="1.1"/>
<line x1="147.16" y1="526.30" x2="147.16" y2="528.50" stroke="#262626" stroke-width="1.1"/>
<line x1="161.57" y1="526.30" x2="161.57" y2="529.60" stroke="#262626" stroke-width="1.1"/>
<line x1="175.99" y1="526.30" x2="175.99" y2="528.50" stroke="#262626" stroke-width="1.1"/>
<line x1="190.40" y1="526.30" x2="190.40" y2="529.60" stroke="#262626" stroke-width="1.1"/>
<line x1="204.81" y1="526.30" x2="204.81" y2="528.50" stroke="#262626" stroke-width="1.1"/>
<line x1="219.22" y1="526.30" x2="219.22" y2="529.60" stroke="#262626" stroke-width="1.1"/>
<line x1="233.64" y1="526.30" x2="233.64" y2="528.50" stroke="#262626" stroke-width="1.1"/>
<line x1="248.05" y1="526.30" x2="248.05" y2="529.60" stroke="#262626" stroke-width="1.1"/>
<line x1="262.46" y1="526.30" x2="262.46" y2="528.50" stroke="#262626" stroke-width="1.1"/>
<line x1="276.88" y1="526.30" x2="276.88" y2="529.60" stroke="#262626" stroke-width="1.1"/>
<line x1="291.29" y1="526.30" x2="291.29" y2="528.50" stroke="#262626" stroke-width="1.1"/>
<line x1="305.70" y1="526.30" x2="305.70" y2="529.60" stroke="#262626" stroke-width="1.1"/>
<line x1="77.60" y1="352.50" x2="97.40" y2="352.50" stroke="#4b4b4b" stroke-width="1.3"/>
<text x="99.40" y="355.80" font-size="9.1" text-anchor="start" fill="#1e1e1e" stroke="#1e1e1e" stroke-width="0.15" stroke-opacity="0.5">CoCo</text>
<line x1="124.40" y1="352.50" x2="144.20" y2="352.50" stroke="#e04a4a" stroke-width="1.3"/>
<text x="146.30" y="355.80" font-size="9.1" text-anchor="start" fill="#1e1e1e" stroke="#1e1e1e" stroke-width="0.15" stroke-opacity="0.5">CoCr</text>
<line x1="168.90" y1="352.50" x2="188.90" y2="352.50" stroke="#2f6fcc" stroke-width="1.3"/>
<text x="190.80" y="355.80" font-size="9.1" text-anchor="start" fill="#1e1e1e" stroke="#1e1e1e" stroke-width="0.15" stroke-opacity="0.5">CoNi</text>
<line x1="212.40" y1="352.50" x2="232.00" y2="352.50" stroke="#3fa874" stroke-width="1.3"/>
<text x="235.00" y="355.80" font-size="9.1" text-anchor="start" fill="#1e1e1e" stroke="#1e1e1e" stroke-width="0.15" stroke-opacity="0.5">CrCo</text>
<line x1="257.90" y1="352.50" x2="277.50" y2="352.50" stroke="#b27ee2" stroke-width="1.3"/>
<text x="279.50" y="355.80" font-size="9.1" text-anchor="start" fill="#1e1e1e" stroke="#1e1e1e" stroke-width="0.15" stroke-opacity="0.5">CrCr</text>
<line x1="104.80" y1="363.20" x2="124.40" y2="363.20" stroke="#d8a631" stroke-width="1.3"/>
<text x="126.70" y="366.50" font-size="9.1" text-anchor="start" fill="#1e1e1e" stroke="#1e1e1e" stroke-width="0.15" stroke-opacity="0.5">CrNi</text>
<line x1="146.80" y1="363.20" x2="166.50" y2="363.20" stroke="#26c2cf" stroke-width="1.3"/>
<text x="168.80" y="366.50" font-size="9.1" text-anchor="start" fill="#1e1e1e" stroke="#1e1e1e" stroke-width="0.15" stroke-opacity="0.5">NiCo</text>
<line x1="189.80" y1="363.20" x2="211.00" y2="363.20" stroke="#74474f" stroke-width="1.3"/>
<text x="212.90" y="366.50" font-size="9.1" text-anchor="start" fill="#1e1e1e" stroke="#1e1e1e" stroke-width="0.15" stroke-opacity="0.5">NiCr</text>
<line x1="233.40" y1="363.20" x2="253.00" y2="363.20" stroke="#9a9a26" stroke-width="1.3"/>
<text x="254.90" y="366.50" font-size="9.1" text-anchor="start" fill="#1e1e1e" stroke="#1e1e1e" stroke-width="0.15" stroke-opacity="0.5">NiNi</text>
<text x="333.00" y="336.60" font-size="15.2" text-anchor="start" fill="#000" stroke="#000" stroke-width="0.15" >d</text>
<text transform="translate(355.20,432.70) rotate(-90)" font-size="13.6" text-anchor="middle" fill="#000" stroke="#000" stroke-width="0.15">SRO parameter (α)</text>
<text x="401.30" y="346.19" font-size="13.2" text-anchor="end" fill="#000" stroke="#000" stroke-width="0.15" >0.010</text>
<text x="401.30" y="364.09" font-size="13.2" text-anchor="end" fill="#000" stroke="#000" stroke-width="0.15" >0.008</text>
<text x="401.30" y="383.39" font-size="13.2" text-anchor="end" fill="#000" stroke="#000" stroke-width="0.15" >0.006</text>
<text x="401.30" y="401.49" font-size="13.2" text-anchor="end" fill="#000" stroke="#000" stroke-width="0.15" >0.004</text>
<text x="401.30" y="419.19" font-size="13.2" text-anchor="end" fill="#000" stroke="#000" stroke-width="0.15" >0.002</text>
<text x="401.30" y="438.69" font-size="13.2" text-anchor="end" fill="#000" stroke="#000" stroke-width="0.15" >0</text>
<text x="401.30" y="458.09" font-size="13.2" text-anchor="end" fill="#000" stroke="#000" stroke-width="0.15" >-0.002</text>
<text x="401.30" y="477.49" font-size="13.2" text-anchor="end" fill="#000" stroke="#000" stroke-width="0.15" >-0.004</text>
<text x="401.30" y="495.89" font-size="13.2" text-anchor="end" fill="#000" stroke="#000" stroke-width="0.15" >-0.006</text>
<text x="401.30" y="514.69" font-size="13.2" text-anchor="end" fill="#000" stroke="#000" stroke-width="0.15" >-0.008</text>
<text x="401.30" y="530.69" font-size="13.2" text-anchor="end" fill="#000" stroke="#000" stroke-width="0.15" >-0.010</text>
<text x="410.30" y="548.20" font-size="13.2" text-anchor="middle" fill="#000" stroke="#000" stroke-width="0.15" >0</text>
<text x="438.60" y="548.20" font-size="13.2" text-anchor="middle" fill="#000" stroke="#000" stroke-width="0.15" >25</text>
<text x="468.40" y="548.20" font-size="13.2" text-anchor="middle" fill="#000" stroke="#000" stroke-width="0.15" >50</text>
<text x="499.00" y="548.20" font-size="13.2" text-anchor="middle" fill="#000" stroke="#000" stroke-width="0.15" >75</text>
<text x="524.40" y="548.20" font-size="13.2" text-anchor="middle" fill="#000" stroke="#000" stroke-width="0.15" >100</text>
<text x="553.50" y="548.20" font-size="13.2" text-anchor="middle" fill="#000" stroke="#000" stroke-width="0.15" >125</text>
<text x="583.50" y="548.20" font-size="13.2" text-anchor="middle" fill="#000" stroke="#000" stroke-width="0.15" >150</text>
<text x="611.30" y="548.20" font-size="13.2" text-anchor="middle" fill="#000" stroke="#000" stroke-width="0.15" >175</text>
<text x="641.00" y="548.20" font-size="13.2" text-anchor="middle" fill="#000" stroke="#000" stroke-width="0.15" >200</text>
<text x="523.90" y="563.80" font-size="13.3" text-anchor="middle" fill="#000" stroke="#000" stroke-width="0.15" >kNN</text>
<text x="568.60" y="504.90" font-size="15.0" text-anchor="start" fill="#000" stroke="#000" stroke-width="0.15" >AN500</text>
<text transform="translate(662.10,432.40) rotate(90)" font-size="10.7" text-anchor="middle" fill="#000" stroke="#000" stroke-width="0.15">Random</text>
<text transform="translate(648.90,432.40) rotate(90)" font-size="10.7" text-anchor="middle" fill="#000" stroke="#000" stroke-width="0.15">(± 0.00022)</text>
<rect x="640.10" y="429.70" width="3.8" height="5.2" fill="#b8b8b8"/>
<polyline points="410.99,418.40 411.48,408.62 413.04,413.61 415.10,421.83 417.16,415.66 418.73,414.10 420.30,418.79 421.86,423.88 423.33,422.90 425.49,427.01 427.55,427.14 429.60,427.99 431.25,427.82 432.90,427.98 434.54,428.24 436.19,428.83 437.84,429.07 439.31,429.42 440.78,429.04 442.24,428.89 443.71,428.78 445.18,428.83 446.65,428.78 448.12,428.58 449.64,428.31 451.16,428.00 452.68,427.84 454.20,427.79 455.74,427.96 457.29,427.63 458.83,427.20 460.37,427.30 461.94,427.88 463.51,428.54 465.08,428.74 466.64,428.58 468.19,429.53 469.73,430.24 471.27,431.09 472.82,432.39 474.36,432.20 475.91,432.09 477.46,432.08 479.00,432.43 480.55,432.80 482.09,432.70 483.64,432.22 485.19,432.01 486.73,432.39 488.14,431.72 489.55,432.21 490.96,432.15 492.36,432.50 493.77,432.47 495.18,432.57 496.59,432.67 497.99,432.81 499.40,432.69 500.81,432.73 502.22,432.39 503.62,432.41 505.03,432.13 506.44,432.03 507.85,431.90 509.25,431.50 510.66,431.64 512.07,431.90 513.48,431.64 514.88,431.56 516.29,431.35 517.70,431.61 519.24,431.10 520.77,431.20 522.31,431.40 523.85,431.48 525.39,431.15 526.93,430.85 528.47,430.91 530.01,431.26 531.54,430.84 533.08,430.43 534.57,430.54 536.05,430.67 537.54,430.76 539.03,430.95 540.51,431.23 542.00,431.03 543.49,430.68 544.97,430.62 546.46,430.56 547.94,430.72 549.43,430.67 550.92,430.83 552.33,430.75 553.74,431.10 555.15,430.99 556.56,431.25 557.96,431.54 559.37,431.68 560.78,431.70 562.19,431.73 563.60,431.67 565.01,431.72 566.42,431.58 567.83,431.47 569.24,431.90 570.67,431.84 572.11,431.94 573.54,431.58 574.98,431.60 576.41,431.53 577.84,431.26 579.28,431.43 580.71,431.73 582.14,432.04 583.58,432.13 585.01,431.60 586.44,431.58 587.88,431.72 589.31,432.18 590.74,432.05 592.18,431.81 593.61,431.88 595.05,431.74 596.48,431.61 597.91,431.56 599.35,431.55 600.78,431.66 602.21,431.82 603.65,431.76 605.08,431.99 606.51,431.99 607.95,431.61 609.39,431.77 610.83,431.63 612.27,431.78 613.72,431.97 615.16,431.89 616.60,431.79 618.04,431.82 619.49,431.79 620.93,431.98 622.37,431.79 623.81,431.59 625.26,431.50 626.70,431.31 628.14,431.01 629.58,431.14 631.03,431.02 632.47,431.24 633.91,431.26 635.35,431.18 636.80,430.99 638.24,430.94 639.68,430.99 641.12,431.38 642.57,431.59 644.01,431.32" fill="none" stroke="#4b4b4b" stroke-width="1.4" stroke-linejoin="round" stroke-linecap="round"/>
<polyline points="410.99,416.45 412.46,424.66 414.71,431.41 416.38,433.88 418.04,435.82 419.71,437.54 421.37,439.14 423.04,439.15 424.70,439.14 426.21,439.76 427.71,440.51 429.21,441.39 430.71,440.46 432.22,439.52 433.72,439.14 435.39,439.05 437.05,439.87 438.72,440.73 440.38,440.90 442.24,440.17 444.11,439.32 445.97,439.14 447.98,439.25 449.99,439.53 451.46,439.66 452.93,439.17 454.40,438.73 455.87,438.40 457.34,438.55 458.88,438.72 460.42,439.38 461.97,439.74 463.51,440.12 464.92,440.05 466.32,440.23 467.73,440.16 469.14,440.00 470.55,439.90 471.95,440.51 473.36,440.87 474.77,440.96 476.18,440.92 477.58,440.71 478.99,440.61 480.40,440.66 481.81,440.75 483.21,440.85 484.62,440.95 486.03,440.98 487.44,440.98 488.84,440.96 490.25,441.59 491.66,441.92 493.07,441.99 494.47,441.68 495.88,441.83 497.29,441.27 498.70,440.80 500.10,440.78 501.51,440.84 502.92,440.90 504.33,441.08 505.73,441.23 507.14,441.19 508.55,440.74 509.96,440.90 511.50,441.08 513.03,441.18 514.57,441.15 516.11,441.01 517.65,441.00 519.19,441.23 520.73,440.99 522.26,440.83 523.80,440.98 525.34,440.61 526.76,441.04 528.18,440.92 529.60,440.85 531.02,440.76 532.45,440.52 533.87,440.34 535.29,440.20 536.71,440.30 538.13,440.22 539.55,440.45 540.97,440.74 542.39,440.91 543.81,440.74 545.23,440.82 546.65,441.13 548.08,441.08 549.50,440.89 550.92,440.61 552.35,440.76 553.78,440.92 555.21,441.00 556.65,441.15 558.08,440.95 559.51,441.05 560.95,440.90 562.38,440.92 563.81,440.81 565.24,440.81 566.68,441.13 568.11,441.27 569.54,441.51 570.97,441.55 572.41,441.69 573.84,441.55 575.27,441.12 576.71,441.43 578.14,441.79 579.57,441.60 581.00,441.65 582.44,441.36 583.87,441.37 585.30,441.31 586.73,441.34 588.17,441.59 589.60,441.85 591.03,441.78 592.46,441.68 593.90,441.46 595.33,441.50 596.76,441.56 598.19,441.89 599.62,442.15 601.06,442.02 602.49,441.75 603.92,441.55 605.35,441.76 606.78,441.78 608.21,441.61 609.65,441.54 611.08,441.41 612.51,441.22 613.94,441.38 615.37,441.62 616.80,441.51 618.24,441.69 619.67,441.90 621.10,442.15 622.53,441.70 623.96,441.36 625.40,441.32 626.83,441.28 628.26,441.25 629.69,441.17 631.12,441.52 632.55,441.56 633.99,441.67 635.42,441.67 636.85,441.72 638.28,441.65 639.71,441.62 641.14,441.57 642.58,441.52 644.01,441.68" fill="none" stroke="#e04a4a" stroke-width="1.4" stroke-linejoin="round" stroke-linecap="round"/>
<polyline points="411.08,455.58 413.53,440.32 415.30,436.99 418.04,439.14 419.71,436.90 421.37,434.74 423.33,433.20 425.29,431.41 426.96,430.05 428.62,428.58 430.58,429.91 432.54,431.90 434.41,431.00 436.27,430.91 438.13,430.83 439.99,431.82 441.85,431.96 443.71,432.49 445.23,432.67 446.75,432.97 448.27,432.74 449.79,432.77 451.31,432.97 452.83,433.27 454.35,433.83 455.87,434.15 457.39,434.22 458.92,434.02 460.45,433.69 461.98,433.44 463.51,433.17 464.92,433.15 466.32,433.79 467.73,434.04 469.14,434.17 470.55,434.50 471.95,434.38 473.36,434.08 474.77,434.13 476.18,434.33 477.58,434.45 478.99,434.74 480.40,434.96 481.81,434.63 483.21,434.18 484.62,433.86 486.03,433.81 487.44,433.76 488.84,433.89 490.25,433.95 491.66,433.88 493.07,433.45 494.47,433.17 495.93,432.94 497.38,432.98 498.83,433.33 500.28,433.00 501.73,432.98 503.18,432.89 504.63,432.67 506.09,432.71 507.54,432.62 508.99,432.61 510.44,432.98 511.89,433.13 513.34,433.35 514.79,433.27 516.25,433.36 517.70,432.88 519.14,433.13 520.59,433.10 522.03,432.91 523.48,432.99 524.92,433.15 526.36,433.23 527.81,432.96 529.25,433.09 530.70,432.72 532.14,432.64 533.59,432.07 535.03,432.17 536.47,431.89 537.92,432.07 539.36,432.35 540.81,432.49 542.25,432.47 543.70,432.46 545.14,432.20 546.58,431.73 548.03,431.67 549.47,431.78 550.92,431.90 552.33,432.17 553.74,432.45 555.15,432.48 556.56,432.41 557.96,432.25 559.37,432.16 560.78,432.43 562.19,432.52 563.60,433.07 565.01,433.34 566.42,433.15 567.83,432.89 569.24,433.17 570.67,432.83 572.11,433.12 573.54,433.27 574.98,433.56 576.41,433.52 577.84,433.31 579.28,433.09 580.71,433.24 582.14,433.59 583.58,433.73 585.01,433.59 586.44,433.54 587.88,433.90 589.31,434.48 590.74,434.35 592.18,434.13 593.61,434.15 595.05,433.98 596.48,433.97 597.91,434.06 599.35,434.24 600.78,434.40 602.21,434.41 603.65,434.44 605.08,434.35 606.51,434.23 607.95,434.74 609.39,434.34 610.83,434.50 612.27,434.53 613.72,434.75 615.16,434.50 616.60,434.55 618.04,434.55 619.49,434.80 620.93,434.91 622.37,435.00 623.81,434.88 625.26,434.63 626.70,434.78 628.14,434.95 629.58,434.61 631.03,434.63 632.47,434.65 633.91,435.04 635.35,435.30 636.80,434.83 638.24,434.43 639.68,434.53 641.12,434.82 642.57,434.88 644.01,434.74" fill="none" stroke="#2f6fcc" stroke-width="1.4" stroke-linejoin="round" stroke-linecap="round"/>
<polyline points="410.99,421.34 411.38,425.84 414.12,430.24 415.54,434.00 416.96,436.99 418.43,436.88 419.90,436.29 421.37,435.82 423.33,437.42 425.29,438.07 427.25,438.58 429.21,439.14 431.07,438.42 432.94,438.11 434.80,438.07 436.66,437.39 438.52,436.26 440.38,435.82 442.24,434.90 444.11,434.66 445.97,434.74 447.38,434.81 448.80,435.02 450.21,435.02 451.62,434.61 453.04,434.37 454.45,434.23 455.87,434.15 457.39,433.95 458.92,434.06 460.45,433.95 461.98,433.95 463.51,433.96 464.92,433.93 466.32,434.07 467.73,434.09 469.14,434.27 470.55,434.58 471.95,434.72 473.36,434.51 474.77,434.66 476.18,434.44 477.58,434.52 478.99,434.45 480.44,434.14 481.89,434.18 483.35,433.95 484.80,434.00 486.25,434.00 487.70,434.01 489.15,434.02 490.60,433.64 492.05,433.57 493.51,433.84 494.96,433.90 496.41,433.77 497.86,433.80 499.31,433.61 500.76,433.51 502.22,433.17 503.66,433.61 505.11,433.82 506.55,433.89 508.00,433.56 509.44,433.57 510.89,433.78 512.33,433.98 513.78,433.96 515.22,433.63 516.67,433.61 518.11,433.65 519.56,433.75 521.01,433.81 522.45,433.84 523.90,434.24 525.34,433.96 526.76,434.53 528.18,434.22 529.60,434.11 531.02,434.05 532.45,433.98 533.87,433.61 535.29,433.92 536.71,433.96 538.13,433.98 539.55,434.18 540.97,434.02 542.39,434.15 543.81,433.81 545.23,434.15 546.65,434.08 548.08,434.16 549.50,433.96 550.92,433.96 552.35,434.20 553.78,434.36 555.21,434.42 556.65,434.19 558.08,434.36 559.51,434.49 560.95,434.36 562.38,434.37 563.81,434.01 565.24,433.72 566.68,434.23 568.11,434.52 569.54,434.64 570.97,434.78 572.41,434.90 573.84,435.11 575.27,434.90 576.71,435.16 578.14,435.05 579.57,434.96 581.00,435.14 582.44,434.89 583.87,434.67 585.30,434.73 586.73,434.69 588.17,434.98 589.60,435.04 591.03,434.91 592.46,434.74 593.91,434.70 595.36,435.00 596.80,435.39 598.25,435.30 599.69,435.30 601.14,435.25 602.58,435.36 604.03,435.45 605.47,435.44 606.92,435.53 608.36,435.53 609.81,435.76 611.25,435.78 612.70,435.21 614.15,434.91 615.59,435.52 617.01,435.01 618.43,434.92 619.85,434.93 621.27,435.18 622.70,435.41 624.12,435.62 625.54,435.50 626.96,435.60 628.38,435.69 629.80,435.76 631.22,435.65 632.64,435.86 634.06,436.04 635.48,435.86 636.90,435.62 638.32,435.26 639.75,435.42 641.17,435.51 642.59,435.52 644.01,435.52" fill="none" stroke="#3fa874" stroke-width="1.4" stroke-linejoin="round" stroke-linecap="round"/>
<polyline points="410.99,422.32 411.67,410.58 413.04,401.28 414.61,396.10 416.18,393.56 418.24,393.07 420.30,394.53 422.35,392.48 424.41,391.50 426.47,389.45 428.53,392.48 430.09,393.66 431.66,393.56 433.18,395.46 434.70,396.59 436.43,396.56 438.16,396.32 439.89,396.59 441.41,397.28 442.93,398.64 444.66,398.55 446.39,399.07 448.12,399.72 449.64,399.62 451.16,399.50 452.68,399.35 454.20,400.01 455.75,400.12 457.30,400.38 458.85,400.93 460.41,401.19 461.96,401.83 463.51,402.26 464.92,402.64 466.32,402.59 467.73,402.52 469.14,402.40 470.55,402.20 471.95,402.69 473.36,403.12 474.77,403.11 476.18,403.51 477.58,403.41 478.99,403.04 480.40,403.28 481.81,403.17 483.21,403.31 484.62,403.28 486.03,403.53 487.44,403.72 488.84,403.60 490.25,403.42 491.66,403.15 493.07,403.40 494.47,403.53 495.88,403.91 497.29,404.16 498.70,404.23 500.10,404.13 501.51,404.05 502.92,404.12 504.33,404.33 505.73,404.44 507.14,404.23 508.55,404.35 509.96,404.61 511.50,404.22 513.03,404.36 514.57,404.27 516.11,404.49 517.65,404.58 519.19,404.91 520.73,405.19 522.26,405.34 523.80,405.76 525.34,405.39 526.75,405.75 528.16,405.56 529.56,405.31 530.97,405.34 532.38,405.56 533.79,405.75 535.19,406.01 536.60,406.07 538.01,406.05 539.42,406.26 540.82,406.17 542.27,406.47 543.72,406.43 545.16,406.55 546.61,406.57 548.06,406.52 549.50,406.32 550.95,406.10 552.39,406.14 553.84,406.54 555.29,406.44 556.73,406.32 558.18,406.32 559.63,406.60 561.07,406.90 562.52,406.83 563.97,406.83 565.41,406.72 566.86,406.83 568.30,406.66 569.75,406.88 571.20,406.99 572.64,406.98 574.09,406.85 575.54,406.38 576.98,406.66 578.39,406.36 579.80,406.45 581.20,406.33 582.61,406.41 584.02,406.75 585.43,407.01 586.83,406.87 588.24,407.01 589.65,406.85 591.06,407.31 592.46,407.68 593.87,407.66 595.28,407.22 596.69,407.21 598.09,407.01 599.50,406.91 600.91,406.96 602.32,407.16 603.72,407.32 605.13,407.48 606.54,407.21 607.95,407.74 609.39,407.47 610.84,407.58 612.28,407.52 613.73,407.78 615.17,407.86 616.62,407.64 618.06,407.80 619.51,408.09 620.96,408.53 622.40,408.45 623.85,408.34 625.29,408.48 626.74,408.64 628.18,408.86 629.63,408.43 631.07,408.42 632.51,408.33 633.95,408.67 635.38,408.94 636.82,409.14 638.26,409.43 639.70,409.55 641.13,409.55 642.57,409.59 644.01,409.70" fill="none" stroke="#b27ee2" stroke-width="1.4" stroke-linejoin="round" stroke-linecap="round"/>
<polyline points="410.99,426.23 411.28,445.79 413.53,463.69 415.79,473.77 418.04,470.44 420.30,465.94 422.55,462.62 424.70,464.28 426.96,464.28 428.67,462.25 430.39,459.29 432.05,457.31 433.72,455.87 435.39,455.34 437.05,453.72 438.72,454.33 440.38,454.79 442.24,454.44 444.11,455.27 445.97,455.38 447.38,455.66 448.80,455.46 450.21,455.35 451.62,455.00 453.04,454.55 454.45,454.88 455.87,454.79 457.39,454.44 458.92,453.79 460.45,452.96 461.98,452.42 463.51,452.45 464.92,452.07 466.32,452.44 467.73,452.49 469.14,451.85 470.55,451.39 471.95,451.49 473.36,451.35 474.77,451.39 476.18,451.47 477.58,451.47 478.99,450.98 480.40,450.58 481.81,450.28 483.21,450.31 484.62,450.41 486.03,450.20 487.44,450.03 488.84,450.10 490.25,450.00 491.66,450.04 493.07,450.26 494.47,450.20 495.88,450.30 497.29,449.94 498.70,449.65 500.10,449.46 501.51,449.42 502.92,449.59 504.33,449.87 505.73,450.15 507.14,449.80 508.55,449.56 509.96,449.41 511.50,449.05 513.03,448.72 514.57,448.79 516.11,448.70 517.65,448.48 519.19,448.30 520.73,448.41 522.26,448.49 523.80,448.07 525.34,447.85 526.75,447.37 528.16,447.67 529.56,448.04 530.97,447.85 532.38,447.85 533.79,447.67 535.19,447.33 536.60,447.22 538.01,447.12 539.42,447.27 540.82,446.77 542.27,446.84 543.72,446.37 545.16,446.26 546.61,446.79 548.06,446.94 549.50,446.95 550.95,447.24 552.39,447.18 553.84,447.00 555.29,447.06 556.73,447.04 558.18,447.05 559.63,446.84 561.07,446.63 562.52,446.30 563.97,446.17 565.41,446.21 566.86,446.27 568.30,446.27 569.75,446.70 571.20,446.95 572.64,446.90 574.09,446.64 575.54,446.36 576.98,446.77 578.39,446.01 579.80,446.34 581.20,446.42 582.61,446.97 584.02,446.57 585.43,446.27 586.83,446.34 588.24,446.48 589.65,446.53 591.06,446.18 592.46,445.87 593.87,445.58 595.28,445.97 596.69,445.91 598.09,445.87 599.50,445.58 600.91,445.40 602.32,444.90 603.72,444.57 605.13,444.51 606.54,444.51 607.95,444.81 609.39,444.92 610.83,445.23 612.27,444.86 613.72,444.69 615.16,444.55 616.60,444.59 618.04,444.59 619.49,444.42 620.93,444.30 622.37,444.51 623.81,444.71 625.26,444.62 626.70,444.39 628.14,444.25 629.58,444.25 631.03,444.19 632.47,444.43 633.91,444.44 635.35,444.72 636.80,444.70 638.24,444.41 639.68,444.52 641.12,444.36 642.57,444.52 644.01,444.03" fill="none" stroke="#d8a631" stroke-width="1.4" stroke-linejoin="round" stroke-linecap="round"/>
<polyline points="411.08,488.84 411.38,465.94 412.46,446.97 414.71,439.14 416.96,435.82 418.63,440.90 420.88,433.57 423.63,435.82 425.05,432.15 426.47,428.58 429.21,426.91 431.07,426.97 432.94,427.49 434.80,427.99 436.66,428.49 438.52,429.21 440.38,429.16 442.24,429.51 444.11,430.29 445.97,430.83 447.38,431.16 448.80,431.10 450.21,431.32 451.62,431.70 453.04,432.45 454.45,432.45 455.87,432.49 457.39,431.97 458.92,432.24 460.45,432.07 461.98,431.34 463.51,431.32 465.05,430.90 466.60,430.77 468.14,430.35 469.68,430.01 471.23,429.56 472.77,428.89 474.31,428.19 475.86,428.28 477.29,428.70 478.72,428.66 480.15,428.66 481.58,428.52 483.02,428.40 484.45,428.18 485.88,428.33 487.31,428.59 488.75,428.65 490.18,428.65 491.61,428.79 493.04,428.64 494.47,428.58 495.88,428.63 497.29,428.64 498.70,428.38 500.10,428.97 501.51,429.06 502.92,429.59 504.33,429.75 505.73,429.98 507.14,430.31 508.55,430.43 509.96,430.43 511.50,430.52 513.03,430.53 514.57,430.18 516.11,430.08 517.65,430.20 519.19,430.19 520.73,430.32 522.26,430.25 523.80,430.48 525.34,430.14 526.75,430.73 528.16,430.46 529.56,430.19 530.97,430.45 532.38,430.60 533.79,430.79 535.19,430.86 536.60,430.82 538.01,430.84 539.42,430.46 540.82,430.43 542.27,430.12 543.71,430.24 545.15,430.20 546.59,429.91 548.03,430.04 549.47,429.81 550.92,430.14 552.34,429.59 553.76,429.57 555.18,429.46 556.61,429.73 558.03,429.67 559.45,429.38 560.88,429.36 562.30,429.22 563.72,429.17 565.14,429.10 566.57,429.44 567.99,429.45 569.41,429.58 570.83,429.54 572.26,429.37 573.68,429.34 575.10,429.12 576.53,428.72 577.95,428.51 579.37,428.31 580.79,428.53 582.22,428.81 583.64,428.63 585.06,428.54 586.48,428.22 587.91,428.35 589.33,428.28 590.79,428.17 592.25,427.89 593.71,428.15 595.17,428.41 596.62,428.69 598.08,428.45 599.54,428.12 601.00,428.03 602.46,428.04 603.92,427.91 605.38,428.28 606.84,428.62 608.30,428.56 609.75,428.14 611.21,428.13 612.67,428.40 614.13,428.51 615.59,428.28 617.01,427.88 618.43,428.03 619.85,428.36 621.27,428.72 622.70,428.70 624.12,428.82 625.54,428.84 626.96,428.70 628.38,428.70 629.80,428.79 631.22,428.72 632.64,428.74 634.06,428.57 635.48,428.56 636.90,428.58 638.32,428.47 639.75,428.11 641.17,428.16 642.59,427.81 644.01,428.28" fill="none" stroke="#26c2cf" stroke-width="1.4" stroke-linejoin="round" stroke-linecap="round"/>
<polyline points="410.89,445.79 411.28,451.17 413.04,458.12 414.71,467.02 416.38,463.69 419.12,462.62 421.37,465.36 423.04,465.16 424.70,464.28 426.21,463.77 427.71,463.14 429.21,462.62 431.07,462.39 432.94,461.65 434.80,460.96 436.66,460.46 438.52,459.80 440.38,458.71 442.24,458.11 444.11,457.50 445.97,457.04 447.38,456.94 448.80,457.07 450.21,456.83 451.62,456.21 453.04,455.79 454.45,455.57 455.87,455.87 457.39,454.99 458.92,454.61 460.45,454.10 461.98,453.88 463.51,453.23 464.92,453.20 466.32,452.91 467.73,452.70 469.14,452.30 470.55,451.92 471.95,451.89 473.36,451.78 474.77,451.89 476.18,451.78 477.58,451.92 478.99,451.37 480.40,451.18 481.81,451.21 483.21,451.31 484.62,451.38 486.03,450.99 487.44,450.56 488.84,450.29 490.25,450.00 491.66,450.11 493.07,450.19 494.47,450.20 495.88,450.59 497.29,450.51 498.70,450.34 500.10,450.22 501.51,449.86 502.92,449.79 504.33,449.72 505.73,449.58 507.14,449.74 508.55,449.72 509.96,449.41 511.50,449.94 513.03,449.70 514.57,449.68 516.11,449.24 517.65,448.83 519.19,448.49 520.73,448.86 522.26,448.96 523.80,448.93 525.34,448.63 526.75,448.31 528.16,448.38 529.56,448.37 530.97,448.21 532.38,448.14 533.79,448.22 535.19,448.73 536.60,448.90 538.01,448.90 539.42,448.91 540.82,448.34 542.27,448.60 543.72,448.65 545.16,448.29 546.61,447.99 548.06,447.99 549.50,448.03 550.95,448.33 552.39,448.20 553.84,448.21 555.29,448.26 556.73,447.81 558.18,447.73 559.63,447.72 561.07,447.53 562.52,447.57 563.97,447.73 565.41,447.73 566.86,447.43 568.30,447.05 569.75,446.87 571.20,447.10 572.64,447.11 574.09,447.21 575.54,446.93 576.98,447.06 578.39,447.48 579.80,447.07 581.20,446.57 582.61,446.34 584.02,446.46 585.43,446.46 586.83,446.47 588.24,446.40 589.65,446.47 591.06,446.12 592.46,446.10 593.87,446.08 595.28,446.26 596.69,446.22 598.09,446.05 599.50,445.59 600.91,445.61 602.32,445.53 603.72,445.54 605.13,445.89 606.54,445.98 607.95,445.50 609.39,445.40 610.83,445.43 612.27,445.42 613.72,445.54 615.16,445.50 616.60,444.98 618.04,445.01 619.49,445.14 620.93,445.49 622.37,445.33 623.81,445.61 625.26,445.21 626.70,444.64 628.14,444.48 629.58,444.86 631.03,445.32 632.47,444.97 633.91,444.81 635.35,444.29 636.80,444.34 638.24,444.07 639.68,443.85 641.12,443.94 642.57,443.87 644.01,444.33" fill="none" stroke="#74474f" stroke-width="1.4" stroke-linejoin="round" stroke-linecap="round"/>
<polyline points="410.99,445.79 411.48,403.34 412.06,390.42 414.12,388.86 415.10,384.75 416.38,379.66 417.16,382.70 418.24,383.77 419.22,385.83 421.27,391.50 422.84,394.06 424.41,396.59 425.93,398.72 427.45,400.70 429.02,401.99 430.58,403.83 432.15,404.88 433.72,406.37 435.53,408.31 437.35,409.01 439.11,407.74 440.87,406.37 442.28,406.12 443.68,405.93 445.09,405.88 446.79,405.47 448.48,405.37 450.18,405.39 451.60,405.28 453.02,405.31 454.44,404.92 455.87,404.90 457.39,404.66 458.92,405.00 460.45,405.47 461.98,405.85 463.51,406.66 464.92,406.71 466.32,406.97 467.73,407.19 469.14,407.46 470.55,407.45 471.95,407.32 473.36,407.30 474.77,407.41 476.18,407.59 477.58,407.81 478.99,407.74 480.53,407.96 482.08,408.31 483.62,409.01 485.16,409.40 486.71,409.52 488.25,409.80 489.80,409.65 491.34,409.99 492.88,410.02 494.43,410.73 495.97,410.80 497.51,411.26 499.07,411.03 500.62,411.30 502.18,411.63 503.73,411.35 505.29,411.44 506.85,411.40 508.40,411.40 509.96,411.55 511.50,411.80 513.03,412.09 514.57,411.68 516.11,411.63 517.65,411.97 519.19,412.09 520.73,411.95 522.26,412.17 523.80,412.08 525.34,412.34 526.75,412.22 528.16,412.19 529.56,412.13 530.97,412.07 532.38,412.16 533.79,412.37 535.19,412.33 536.60,412.58 538.01,412.81 539.42,412.80 540.82,413.12 542.27,412.79 543.71,412.82 545.15,412.93 546.59,413.46 548.03,413.55 549.47,413.49 550.92,413.41 552.35,413.49 553.78,413.55 555.21,413.85 556.65,413.60 558.08,413.48 559.51,413.75 560.95,413.82 562.38,413.59 563.81,413.39 565.24,413.10 566.68,413.54 568.11,413.89 569.54,413.77 570.97,413.23 572.41,413.01 573.84,413.34 575.27,413.49 576.71,413.43 578.14,413.57 579.57,413.51 581.00,413.65 582.44,413.75 583.87,413.74 585.30,413.68 586.73,413.66 588.17,413.53 589.60,413.48 591.03,413.65 592.46,413.90 593.90,413.80 595.33,414.18 596.76,414.32 598.19,413.88 599.62,413.77 601.06,413.66 602.49,413.47 603.92,413.59 605.35,413.51 606.78,413.63 608.21,414.06 609.65,414.21 611.08,414.19 612.51,414.19 613.94,413.95 615.37,414.25 616.80,414.31 618.24,414.33 619.67,414.00 621.10,413.89 622.53,413.92 623.96,413.70 625.40,413.90 626.83,414.38 628.26,414.67 629.69,414.36 631.12,414.44 632.55,414.64 633.99,414.82 635.42,414.90 636.85,414.79 638.28,414.75 639.71,414.75 641.14,415.11 642.58,415.22 644.01,414.69" fill="none" stroke="#9a9a26" stroke-width="1.4" stroke-linejoin="round" stroke-linecap="round"/>
<rect x="410.30" y="337.60" width="234.10" height="188.80" fill="none" stroke="#262626" stroke-width="1.05"/>
<line x1="406.70" y1="337.60" x2="410.30" y2="337.60" stroke="#262626" stroke-width="1.1"/>
<line x1="408.00" y1="347.04" x2="410.30" y2="347.04" stroke="#262626" stroke-width="1.1"/>
<line x1="406.70" y1="356.48" x2="410.30" y2="356.48" stroke="#262626" stroke-width="1.1"/>
<line x1="408.00" y1="365.92" x2="410.30" y2="365.92" stroke="#262626" stroke-width="1.1"/>
<line x1="406.70" y1="375.36" x2="410.30" y2="375.36" stroke="#262626" stroke-width="1.1"/>
<line x1="408.00" y1="384.80" x2="410.30" y2="384.80" stroke="#262626" stroke-width="1.1"/>
<line x1="406.70" y1="394.24" x2="410.30" y2="394.24" stroke="#262626" stroke-width="1.1"/>
<line x1="408.00" y1="403.68" x2="410.30" y2="403.68" stroke="#262626" stroke-width="1.1"/>
<line x1="406.70" y1="413.12" x2="410.30" y2="413.12" stroke="#262626" stroke-width="1.1"/>
<line x1="408.00" y1="422.56" x2="410.30" y2="422.56" stroke="#262626" stroke-width="1.1"/>
<line x1="406.70" y1="432.00" x2="410.30" y2="432.00" stroke="#262626" stroke-width="1.1"/>
<line x1="408.00" y1="441.44" x2="410.30" y2="441.44" stroke="#262626" stroke-width="1.1"/>
<line x1="406.70" y1="450.88" x2="410.30" y2="450.88" stroke="#262626" stroke-width="1.1"/>
<line x1="408.00" y1="460.32" x2="410.30" y2="460.32" stroke="#262626" stroke-width="1.1"/>
<line x1="406.70" y1="469.76" x2="410.30" y2="469.76" stroke="#262626" stroke-width="1.1"/>
<line x1="408.00" y1="479.20" x2="410.30" y2="479.20" stroke="#262626" stroke-width="1.1"/>
<line x1="406.70" y1="488.64" x2="410.30" y2="488.64" stroke="#262626" stroke-width="1.1"/>
<line x1="408.00" y1="498.08" x2="410.30" y2="498.08" stroke="#262626" stroke-width="1.1"/>
<line x1="406.70" y1="507.52" x2="410.30" y2="507.52" stroke="#262626" stroke-width="1.1"/>
<line x1="408.00" y1="516.96" x2="410.30" y2="516.96" stroke="#262626" stroke-width="1.1"/>
<line x1="406.70" y1="526.40" x2="410.30" y2="526.40" stroke="#262626" stroke-width="1.1"/>
<line x1="410.30" y1="526.40" x2="410.30" y2="529.70" stroke="#262626" stroke-width="1.1"/>
<line x1="424.93" y1="526.40" x2="424.93" y2="528.60" stroke="#262626" stroke-width="1.1"/>
<line x1="439.56" y1="526.40" x2="439.56" y2="529.70" stroke="#262626" stroke-width="1.1"/>
<line x1="454.19" y1="526.40" x2="454.19" y2="528.60" stroke="#262626" stroke-width="1.1"/>
<line x1="468.82" y1="526.40" x2="468.82" y2="529.70" stroke="#262626" stroke-width="1.1"/>
<line x1="483.46" y1="526.40" x2="483.46" y2="528.60" stroke="#262626" stroke-width="1.1"/>
<line x1="498.09" y1="526.40" x2="498.09" y2="529.70" stroke="#262626" stroke-width="1.1"/>
<line x1="512.72" y1="526.40" x2="512.72" y2="528.60" stroke="#262626" stroke-width="1.1"/>
<line x1="527.35" y1="526.40" x2="527.35" y2="529.70" stroke="#262626" stroke-width="1.1"/>
<line x1="541.98" y1="526.40" x2="541.98" y2="528.60" stroke="#262626" stroke-width="1.1"/>
<line x1="556.61" y1="526.40" x2="556.61" y2="529.70" stroke="#262626" stroke-width="1.1"/>
<line x1="571.24" y1="526.40" x2="571.24" y2="528.60" stroke="#262626" stroke-width="1.1"/>
<line x1="585.88" y1="526.40" x2="585.88" y2="529.70" stroke="#262626" stroke-width="1.1"/>
<line x1="600.51" y1="526.40" x2="600.51" y2="528.60" stroke="#262626" stroke-width="1.1"/>
<line x1="615.14" y1="526.40" x2="615.14" y2="529.70" stroke="#262626" stroke-width="1.1"/>
<line x1="629.77" y1="526.40" x2="629.77" y2="528.60" stroke="#262626" stroke-width="1.1"/>
<line x1="644.40" y1="526.40" x2="644.40" y2="529.70" stroke="#262626" stroke-width="1.1"/>
<line x1="416.90" y1="349.60" x2="436.70" y2="349.60" stroke="#4b4b4b" stroke-width="1.3"/>
<text x="438.70" y="352.90" font-size="9.1" text-anchor="start" fill="#1e1e1e" stroke="#1e1e1e" stroke-width="0.15" stroke-opacity="0.5">CoCo</text>
<line x1="463.70" y1="349.60" x2="483.50" y2="349.60" stroke="#e04a4a" stroke-width="1.3"/>
<text x="485.60" y="352.90" font-size="9.1" text-anchor="start" fill="#1e1e1e" stroke="#1e1e1e" stroke-width="0.15" stroke-opacity="0.5">CoCr</text>
<line x1="508.20" y1="349.60" x2="528.20" y2="349.60" stroke="#2f6fcc" stroke-width="1.3"/>
<text x="530.10" y="352.90" font-size="9.1" text-anchor="start" fill="#1e1e1e" stroke="#1e1e1e" stroke-width="0.15" stroke-opacity="0.5">CoNi</text>
<line x1="551.70" y1="349.60" x2="571.30" y2="349.60" stroke="#3fa874" stroke-width="1.3"/>
<text x="574.30" y="352.90" font-size="9.1" text-anchor="start" fill="#1e1e1e" stroke="#1e1e1e" stroke-width="0.15" stroke-opacity="0.5">CrCo</text>
<line x1="597.20" y1="349.60" x2="616.80" y2="349.60" stroke="#b27ee2" stroke-width="1.3"/>
<text x="618.80" y="352.90" font-size="9.1" text-anchor="start" fill="#1e1e1e" stroke="#1e1e1e" stroke-width="0.15" stroke-opacity="0.5">CrCr</text>
<line x1="444.10" y1="360.80" x2="463.70" y2="360.80" stroke="#d8a631" stroke-width="1.3"/>
<text x="466.00" y="364.10" font-size="9.1" text-anchor="start" fill="#1e1e1e" stroke="#1e1e1e" stroke-width="0.15" stroke-opacity="0.5">CrNi</text>
<line x1="486.10" y1="360.80" x2="505.80" y2="360.80" stroke="#26c2cf" stroke-width="1.3"/>
<text x="508.10" y="364.10" font-size="9.1" text-anchor="start" fill="#1e1e1e" stroke="#1e1e1e" stroke-width="0.15" stroke-opacity="0.5">NiCo</text>
<line x1="529.10" y1="360.80" x2="550.30" y2="360.80" stroke="#74474f" stroke-width="1.3"/>
<text x="552.20" y="364.10" font-size="9.1" text-anchor="start" fill="#1e1e1e" stroke="#1e1e1e" stroke-width="0.15" stroke-opacity="0.5">NiCr</text>
<line x1="572.70" y1="360.80" x2="592.30" y2="360.80" stroke="#9a9a26" stroke-width="1.3"/>
<text x="594.20" y="364.10" font-size="9.1" text-anchor="start" fill="#1e1e1e" stroke="#1e1e1e" stroke-width="0.15" stroke-opacity="0.5">NiNi</text>
<rect x="0" y="0" width="685" height="1" fill="#0d2a63"/>
<rect x="0" y="0" width="1.2" height="570" fill="#0d2a63"/>
<rect x="683.8" y="0" width="1.2" height="570" fill="#0d2a63"/>
<rect x="0" y="569" width="685" height="1" fill="#e4e4ea"/>
</svg></body></html>
